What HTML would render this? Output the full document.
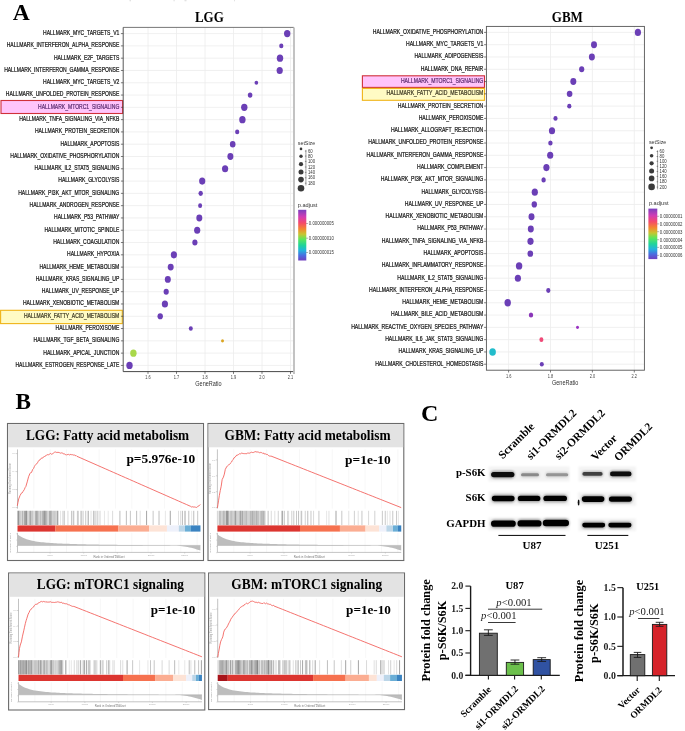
<!DOCTYPE html>
<html><head><meta charset="utf-8"><title>Figure</title><style>html,body{margin:0;padding:0;background:#fff;}body{width:685px;height:731px;overflow:hidden;}svg{display:block;}</style></head><body>
<svg width="685" height="731" viewBox="0 0 685 731" font-family="'Liberation Sans', Arial, sans-serif">
<rect width="685" height="731" fill="#fff"/>
<defs><filter id="bl" x="-20%" y="-60%" width="140%" height="220%"><feGaussianBlur stdDeviation="0.7"/></filter><filter id="bl2" x="-10%" y="-30%" width="120%" height="160%"><feGaussianBlur stdDeviation="0.9"/></filter><filter id="bl3" x="-20%" y="-80%" width="140%" height="260%"><feGaussianBlur stdDeviation="1.3"/></filter><linearGradient id="padjL" x1="0" y1="0" x2="0" y2="1"><stop offset="0" stop-color="#7a40c0"/><stop offset="0.14" stop-color="#d23cb4"/><stop offset="0.26" stop-color="#f54a6a"/><stop offset="0.38" stop-color="#f3882e"/><stop offset="0.48" stop-color="#c9c431"/><stop offset="0.58" stop-color="#5ee65a"/><stop offset="0.70" stop-color="#1fd49a"/><stop offset="0.80" stop-color="#22b4dc"/><stop offset="0.90" stop-color="#4a6de0"/><stop offset="1" stop-color="#6f40c0"/></linearGradient></defs>
<rect x="129.5" y="0" width="1.5" height="1.3" fill="#e2e2e2"/>
<rect x="173.5" y="0" width="1.2" height="1.3" fill="#e2e2e2"/>
<rect x="184.5" y="0" width="2" height="1.3" fill="#e2e2e2"/>
<rect x="234" y="0" width="1" height="1.3" fill="#e2e2e2"/>
<text x="12.7" y="19.6" font-family="'Liberation Serif', 'Times New Roman', serif" font-weight="bold" font-size="23.6">A</text>
<text x="194.9" y="21.8" font-family="'Liberation Serif', 'Times New Roman', serif" font-weight="bold" font-size="14.4" textLength="28.9" lengthAdjust="spacingAndGlyphs">LGG</text>
<text x="551.8" y="21.5" font-family="'Liberation Serif', 'Times New Roman', serif" font-weight="bold" font-size="14.4" textLength="31.1" lengthAdjust="spacingAndGlyphs">GBM</text>
<rect x="1" y="100.5" width="121.6" height="13" fill="#ffc4fb" stroke="#d0303a" stroke-width="1.1"/>
<rect x="0.6" y="310.3" width="121.7" height="13.3" fill="#fffbc4" stroke="#f0b418" stroke-width="1.1"/>
<line x1="123.2" y1="33.6" x2="293.9" y2="33.6" stroke="#ececec" stroke-width="0.8"/>
<line x1="123.2" y1="45.89" x2="293.9" y2="45.89" stroke="#ececec" stroke-width="0.8"/>
<line x1="123.2" y1="58.18" x2="293.9" y2="58.18" stroke="#ececec" stroke-width="0.8"/>
<line x1="123.2" y1="70.47" x2="293.9" y2="70.47" stroke="#ececec" stroke-width="0.8"/>
<line x1="123.2" y1="82.76" x2="293.9" y2="82.76" stroke="#ececec" stroke-width="0.8"/>
<line x1="123.2" y1="95.05" x2="293.9" y2="95.05" stroke="#ececec" stroke-width="0.8"/>
<line x1="123.2" y1="107.34" x2="293.9" y2="107.34" stroke="#ececec" stroke-width="0.8"/>
<line x1="123.2" y1="119.63" x2="293.9" y2="119.63" stroke="#ececec" stroke-width="0.8"/>
<line x1="123.2" y1="131.92" x2="293.9" y2="131.92" stroke="#ececec" stroke-width="0.8"/>
<line x1="123.2" y1="144.21" x2="293.9" y2="144.21" stroke="#ececec" stroke-width="0.8"/>
<line x1="123.2" y1="156.5" x2="293.9" y2="156.5" stroke="#ececec" stroke-width="0.8"/>
<line x1="123.2" y1="168.79" x2="293.9" y2="168.79" stroke="#ececec" stroke-width="0.8"/>
<line x1="123.2" y1="181.08" x2="293.9" y2="181.08" stroke="#ececec" stroke-width="0.8"/>
<line x1="123.2" y1="193.37" x2="293.9" y2="193.37" stroke="#ececec" stroke-width="0.8"/>
<line x1="123.2" y1="205.66" x2="293.9" y2="205.66" stroke="#ececec" stroke-width="0.8"/>
<line x1="123.2" y1="217.95" x2="293.9" y2="217.95" stroke="#ececec" stroke-width="0.8"/>
<line x1="123.2" y1="230.24" x2="293.9" y2="230.24" stroke="#ececec" stroke-width="0.8"/>
<line x1="123.2" y1="242.53" x2="293.9" y2="242.53" stroke="#ececec" stroke-width="0.8"/>
<line x1="123.2" y1="254.82" x2="293.9" y2="254.82" stroke="#ececec" stroke-width="0.8"/>
<line x1="123.2" y1="267.11" x2="293.9" y2="267.11" stroke="#ececec" stroke-width="0.8"/>
<line x1="123.2" y1="279.4" x2="293.9" y2="279.4" stroke="#ececec" stroke-width="0.8"/>
<line x1="123.2" y1="291.69" x2="293.9" y2="291.69" stroke="#ececec" stroke-width="0.8"/>
<line x1="123.2" y1="303.98" x2="293.9" y2="303.98" stroke="#ececec" stroke-width="0.8"/>
<line x1="123.2" y1="316.27" x2="293.9" y2="316.27" stroke="#ececec" stroke-width="0.8"/>
<line x1="123.2" y1="328.56" x2="293.9" y2="328.56" stroke="#ececec" stroke-width="0.8"/>
<line x1="123.2" y1="340.85" x2="293.9" y2="340.85" stroke="#ececec" stroke-width="0.8"/>
<line x1="123.2" y1="353.14" x2="293.9" y2="353.14" stroke="#ececec" stroke-width="0.8"/>
<line x1="123.2" y1="365.43" x2="293.9" y2="365.43" stroke="#ececec" stroke-width="0.8"/>
<line x1="148" y1="27.4" x2="148" y2="371.6" stroke="#ececec" stroke-width="0.8"/>
<line x1="176.5" y1="27.4" x2="176.5" y2="371.6" stroke="#ececec" stroke-width="0.8"/>
<line x1="205" y1="27.4" x2="205" y2="371.6" stroke="#ececec" stroke-width="0.8"/>
<line x1="233.5" y1="27.4" x2="233.5" y2="371.6" stroke="#ececec" stroke-width="0.8"/>
<line x1="262" y1="27.4" x2="262" y2="371.6" stroke="#ececec" stroke-width="0.8"/>
<line x1="290.5" y1="27.4" x2="290.5" y2="371.6" stroke="#ececec" stroke-width="0.8"/>
<text x="119.3" y="35" font-size="7" text-anchor="end" textLength="76.22" lengthAdjust="spacingAndGlyphs" fill="#111" stroke="#111" stroke-width="0.22">HALLMARK_MYC_TARGETS_V1</text>
<line x1="120.9" y1="33.6" x2="123.2" y2="33.6" stroke="#444" stroke-width="0.7"/>
<text x="119.3" y="47.29" font-size="7" text-anchor="end" textLength="112.65" lengthAdjust="spacingAndGlyphs" fill="#111" stroke="#111" stroke-width="0.22">HALLMARK_INTERFERON_ALPHA_RESPONSE</text>
<line x1="120.9" y1="45.89" x2="123.2" y2="45.89" stroke="#444" stroke-width="0.7"/>
<text x="119.3" y="59.58" font-size="7" text-anchor="end" textLength="65.32" lengthAdjust="spacingAndGlyphs" fill="#111" stroke="#111" stroke-width="0.22">HALLMARK_E2F_TARGETS</text>
<line x1="120.9" y1="58.18" x2="123.2" y2="58.18" stroke="#444" stroke-width="0.7"/>
<text x="119.3" y="71.87" font-size="7" text-anchor="end" textLength="115.16" lengthAdjust="spacingAndGlyphs" fill="#111" stroke="#111" stroke-width="0.22">HALLMARK_INTERFERON_GAMMA_RESPONSE</text>
<line x1="120.9" y1="70.47" x2="123.2" y2="70.47" stroke="#444" stroke-width="0.7"/>
<text x="119.3" y="84.16" font-size="7" text-anchor="end" textLength="76.22" lengthAdjust="spacingAndGlyphs" fill="#111" stroke="#111" stroke-width="0.22">HALLMARK_MYC_TARGETS_V2</text>
<line x1="120.9" y1="82.76" x2="123.2" y2="82.76" stroke="#444" stroke-width="0.7"/>
<text x="119.3" y="96.45" font-size="7" text-anchor="end" textLength="113.48" lengthAdjust="spacingAndGlyphs" fill="#111" stroke="#111" stroke-width="0.22">HALLMARK_UNFOLDED_PROTEIN_RESPONSE</text>
<line x1="120.9" y1="95.05" x2="123.2" y2="95.05" stroke="#444" stroke-width="0.7"/>
<text x="119.3" y="108.74" font-size="7" text-anchor="end" textLength="81.25" lengthAdjust="spacingAndGlyphs" fill="#5a2a6e" stroke="#5a2a6e" stroke-width="0.22">HALLMARK_MTORC1_SIGNALING</text>
<line x1="120.9" y1="107.34" x2="123.2" y2="107.34" stroke="#444" stroke-width="0.7"/>
<text x="119.3" y="121.03" font-size="7" text-anchor="end" textLength="100.07" lengthAdjust="spacingAndGlyphs" fill="#111" stroke="#111" stroke-width="0.22">HALLMARK_TNFA_SIGNALING_VIA_NFKB</text>
<line x1="120.9" y1="119.63" x2="123.2" y2="119.63" stroke="#444" stroke-width="0.7"/>
<text x="119.3" y="133.32" font-size="7" text-anchor="end" textLength="84.41" lengthAdjust="spacingAndGlyphs" fill="#111" stroke="#111" stroke-width="0.22">HALLMARK_PROTEIN_SECRETION</text>
<line x1="120.9" y1="131.92" x2="123.2" y2="131.92" stroke="#444" stroke-width="0.7"/>
<text x="119.3" y="145.61" font-size="7" text-anchor="end" textLength="58.89" lengthAdjust="spacingAndGlyphs" fill="#111" stroke="#111" stroke-width="0.22">HALLMARK_APOPTOSIS</text>
<line x1="120.9" y1="144.21" x2="123.2" y2="144.21" stroke="#444" stroke-width="0.7"/>
<text x="119.3" y="157.9" font-size="7" text-anchor="end" textLength="109.01" lengthAdjust="spacingAndGlyphs" fill="#111" stroke="#111" stroke-width="0.22">HALLMARK_OXIDATIVE_PHOSPHORYLATION</text>
<line x1="120.9" y1="156.5" x2="123.2" y2="156.5" stroke="#444" stroke-width="0.7"/>
<text x="119.3" y="170.19" font-size="7" text-anchor="end" textLength="84.8" lengthAdjust="spacingAndGlyphs" fill="#111" stroke="#111" stroke-width="0.22">HALLMARK_IL2_STAT5_SIGNALING</text>
<line x1="120.9" y1="168.79" x2="123.2" y2="168.79" stroke="#444" stroke-width="0.7"/>
<text x="119.3" y="182.48" font-size="7" text-anchor="end" textLength="61.04" lengthAdjust="spacingAndGlyphs" fill="#111" stroke="#111" stroke-width="0.22">HALLMARK_GLYCOLYSIS</text>
<line x1="120.9" y1="181.08" x2="123.2" y2="181.08" stroke="#444" stroke-width="0.7"/>
<text x="119.3" y="194.77" font-size="7" text-anchor="end" textLength="101.1" lengthAdjust="spacingAndGlyphs" fill="#111" stroke="#111" stroke-width="0.22">HALLMARK_PI3K_AKT_MTOR_SIGNALING</text>
<line x1="120.9" y1="193.37" x2="123.2" y2="193.37" stroke="#444" stroke-width="0.7"/>
<text x="119.3" y="207.06" font-size="7" text-anchor="end" textLength="89.73" lengthAdjust="spacingAndGlyphs" fill="#111" stroke="#111" stroke-width="0.22">HALLMARK_ANDROGEN_RESPONSE</text>
<line x1="120.9" y1="205.66" x2="123.2" y2="205.66" stroke="#444" stroke-width="0.7"/>
<text x="119.3" y="219.35" font-size="7" text-anchor="end" textLength="65.23" lengthAdjust="spacingAndGlyphs" fill="#111" stroke="#111" stroke-width="0.22">HALLMARK_P53_PATHWAY</text>
<line x1="120.9" y1="217.95" x2="123.2" y2="217.95" stroke="#444" stroke-width="0.7"/>
<text x="119.3" y="231.64" font-size="7" text-anchor="end" textLength="74.82" lengthAdjust="spacingAndGlyphs" fill="#111" stroke="#111" stroke-width="0.22">HALLMARK_MITOTIC_SPINDLE</text>
<line x1="120.9" y1="230.24" x2="123.2" y2="230.24" stroke="#444" stroke-width="0.7"/>
<text x="119.3" y="243.93" font-size="7" text-anchor="end" textLength="66.15" lengthAdjust="spacingAndGlyphs" fill="#111" stroke="#111" stroke-width="0.22">HALLMARK_COAGULATION</text>
<line x1="120.9" y1="242.53" x2="123.2" y2="242.53" stroke="#444" stroke-width="0.7"/>
<text x="119.3" y="256.22" font-size="7" text-anchor="end" textLength="52.28" lengthAdjust="spacingAndGlyphs" fill="#111" stroke="#111" stroke-width="0.22">HALLMARK_HYPOXIA</text>
<line x1="120.9" y1="254.82" x2="123.2" y2="254.82" stroke="#444" stroke-width="0.7"/>
<text x="119.3" y="268.51" font-size="7" text-anchor="end" textLength="79.85" lengthAdjust="spacingAndGlyphs" fill="#111" stroke="#111" stroke-width="0.22">HALLMARK_HEME_METABOLISM</text>
<line x1="120.9" y1="267.11" x2="123.2" y2="267.11" stroke="#444" stroke-width="0.7"/>
<text x="119.3" y="280.8" font-size="7" text-anchor="end" textLength="83.58" lengthAdjust="spacingAndGlyphs" fill="#111" stroke="#111" stroke-width="0.22">HALLMARK_KRAS_SIGNALING_UP</text>
<line x1="120.9" y1="279.4" x2="123.2" y2="279.4" stroke="#444" stroke-width="0.7"/>
<text x="119.3" y="293.09" font-size="7" text-anchor="end" textLength="77.44" lengthAdjust="spacingAndGlyphs" fill="#111" stroke="#111" stroke-width="0.22">HALLMARK_UV_RESPONSE_UP</text>
<line x1="120.9" y1="291.69" x2="123.2" y2="291.69" stroke="#444" stroke-width="0.7"/>
<text x="119.3" y="305.38" font-size="7" text-anchor="end" textLength="96.34" lengthAdjust="spacingAndGlyphs" fill="#111" stroke="#111" stroke-width="0.22">HALLMARK_XENOBIOTIC_METABOLISM</text>
<line x1="120.9" y1="303.98" x2="123.2" y2="303.98" stroke="#444" stroke-width="0.7"/>
<text x="119.3" y="317.67" font-size="7" text-anchor="end" textLength="95.41" lengthAdjust="spacingAndGlyphs" fill="#3a3520" stroke="#3a3520" stroke-width="0.22">HALLMARK_FATTY_ACID_METABOLISM</text>
<line x1="120.9" y1="316.27" x2="123.2" y2="316.27" stroke="#444" stroke-width="0.7"/>
<text x="119.3" y="329.96" font-size="7" text-anchor="end" textLength="63.73" lengthAdjust="spacingAndGlyphs" fill="#111" stroke="#111" stroke-width="0.22">HALLMARK_PEROXISOME</text>
<line x1="120.9" y1="328.56" x2="123.2" y2="328.56" stroke="#444" stroke-width="0.7"/>
<text x="119.3" y="342.25" font-size="7" text-anchor="end" textLength="85.72" lengthAdjust="spacingAndGlyphs" fill="#111" stroke="#111" stroke-width="0.22">HALLMARK_TGF_BETA_SIGNALING</text>
<line x1="120.9" y1="340.85" x2="123.2" y2="340.85" stroke="#444" stroke-width="0.7"/>
<text x="119.3" y="354.54" font-size="7" text-anchor="end" textLength="76.03" lengthAdjust="spacingAndGlyphs" fill="#111" stroke="#111" stroke-width="0.22">HALLMARK_APICAL_JUNCTION</text>
<line x1="120.9" y1="353.14" x2="123.2" y2="353.14" stroke="#444" stroke-width="0.7"/>
<text x="119.3" y="366.83" font-size="7" text-anchor="end" textLength="103.89" lengthAdjust="spacingAndGlyphs" fill="#111" stroke="#111" stroke-width="0.22">HALLMARK_ESTROGEN_RESPONSE_LATE</text>
<line x1="120.9" y1="365.43" x2="123.2" y2="365.43" stroke="#444" stroke-width="0.7"/>
<ellipse cx="287.2" cy="33.6" rx="3.2" ry="3.68" fill="#6b3fb6"/>
<ellipse cx="281.3" cy="45.89" rx="2.1" ry="2.42" fill="#6b3fb6"/>
<ellipse cx="280" cy="58.18" rx="3.2" ry="3.68" fill="#6b3fb6"/>
<ellipse cx="279.7" cy="70.47" rx="3.1" ry="3.56" fill="#6b3fb6"/>
<ellipse cx="256.4" cy="82.76" rx="1.8" ry="2.07" fill="#6b3fb6"/>
<ellipse cx="250.1" cy="95.05" rx="2.3" ry="2.64" fill="#6b3fb6"/>
<ellipse cx="244.3" cy="107.34" rx="3.2" ry="3.68" fill="#6b3fb6"/>
<ellipse cx="242.4" cy="119.63" rx="3.2" ry="3.68" fill="#6b3fb6"/>
<ellipse cx="237.2" cy="131.92" rx="2.1" ry="2.42" fill="#6b3fb6"/>
<ellipse cx="232.7" cy="144.21" rx="2.8" ry="3.22" fill="#6b3fb6"/>
<ellipse cx="230.4" cy="156.5" rx="3" ry="3.45" fill="#6b3fb6"/>
<ellipse cx="225.1" cy="168.79" rx="3.1" ry="3.56" fill="#6b3fb6"/>
<ellipse cx="202.2" cy="181.08" rx="3.1" ry="3.56" fill="#6b3fb6"/>
<ellipse cx="200.7" cy="193.37" rx="2.2" ry="2.53" fill="#6b3fb6"/>
<ellipse cx="200.1" cy="205.66" rx="2" ry="2.3" fill="#6b3fb6"/>
<ellipse cx="199.3" cy="217.95" rx="3" ry="3.45" fill="#6b3fb6"/>
<ellipse cx="197.2" cy="230.24" rx="3.1" ry="3.56" fill="#6b3fb6"/>
<ellipse cx="194.9" cy="242.53" rx="2.6" ry="2.99" fill="#6b3fb6"/>
<ellipse cx="173.9" cy="254.82" rx="3.1" ry="3.56" fill="#6b3fb6"/>
<ellipse cx="170.7" cy="267.11" rx="3" ry="3.45" fill="#6b3fb6"/>
<ellipse cx="167.8" cy="279.4" rx="3" ry="3.45" fill="#6b3fb6"/>
<ellipse cx="166.2" cy="291.69" rx="2.6" ry="2.99" fill="#6b3fb6"/>
<ellipse cx="164.9" cy="303.98" rx="3.1" ry="3.56" fill="#6b3fb6"/>
<ellipse cx="160.2" cy="316.27" rx="2.7" ry="3.1" fill="#6b3fb6"/>
<ellipse cx="190.8" cy="328.56" rx="2" ry="2.3" fill="#6b3fb6"/>
<ellipse cx="222.5" cy="340.85" rx="1.5" ry="1.72" fill="#dba522"/>
<ellipse cx="133.4" cy="353.14" rx="3.2" ry="3.68" fill="#a9d84b"/>
<ellipse cx="129.5" cy="365.43" rx="3.2" ry="3.68" fill="#6b3fb6"/>
<line x1="148" y1="371.6" x2="148" y2="373.9" stroke="#444" stroke-width="0.7"/>
<text x="148" y="379.2" font-size="4.6" text-anchor="middle" fill="#444" textLength="5.43" lengthAdjust="spacingAndGlyphs">1.6</text>
<line x1="176.5" y1="371.6" x2="176.5" y2="373.9" stroke="#444" stroke-width="0.7"/>
<text x="176.5" y="379.2" font-size="4.6" text-anchor="middle" fill="#444" textLength="5.43" lengthAdjust="spacingAndGlyphs">1.7</text>
<line x1="205" y1="371.6" x2="205" y2="373.9" stroke="#444" stroke-width="0.7"/>
<text x="205" y="379.2" font-size="4.6" text-anchor="middle" fill="#444" textLength="5.43" lengthAdjust="spacingAndGlyphs">1.8</text>
<line x1="233.5" y1="371.6" x2="233.5" y2="373.9" stroke="#444" stroke-width="0.7"/>
<text x="233.5" y="379.2" font-size="4.6" text-anchor="middle" fill="#444" textLength="5.43" lengthAdjust="spacingAndGlyphs">1.9</text>
<line x1="262" y1="371.6" x2="262" y2="373.9" stroke="#444" stroke-width="0.7"/>
<text x="262" y="379.2" font-size="4.6" text-anchor="middle" fill="#444" textLength="5.43" lengthAdjust="spacingAndGlyphs">2.0</text>
<line x1="290.5" y1="371.6" x2="290.5" y2="373.9" stroke="#444" stroke-width="0.7"/>
<text x="290.5" y="379.2" font-size="4.6" text-anchor="middle" fill="#444" textLength="5.43" lengthAdjust="spacingAndGlyphs">2.1</text>
<line x1="123.2" y1="27.4" x2="293.9" y2="27.4" stroke="#666" stroke-width="0.9"/>
<line x1="123.2" y1="27.4" x2="123.2" y2="371.6" stroke="#444" stroke-width="0.9"/>
<line x1="123.2" y1="371.6" x2="293.9" y2="371.6" stroke="#333" stroke-width="0.9"/>
<line x1="294" y1="27.4" x2="294" y2="374" stroke="#bdbdbd" stroke-width="1.8"/>
<text x="208.5" y="386.3" font-size="6.4" text-anchor="middle" fill="#333" textLength="26.31" lengthAdjust="spacingAndGlyphs">GeneRatio</text>
<rect x="362.4" y="75.8" width="122.1" height="11.6" fill="#ffc4fb" stroke="#d0303a" stroke-width="1.1"/>
<rect x="362.4" y="88.4" width="122.1" height="11.9" fill="#fffbc4" stroke="#f0b418" stroke-width="1.1"/>
<line x1="486.4" y1="32.4" x2="644.4" y2="32.4" stroke="#ececec" stroke-width="0.8"/>
<line x1="486.4" y1="44.69" x2="644.4" y2="44.69" stroke="#ececec" stroke-width="0.8"/>
<line x1="486.4" y1="56.98" x2="644.4" y2="56.98" stroke="#ececec" stroke-width="0.8"/>
<line x1="486.4" y1="69.27" x2="644.4" y2="69.27" stroke="#ececec" stroke-width="0.8"/>
<line x1="486.4" y1="81.56" x2="644.4" y2="81.56" stroke="#ececec" stroke-width="0.8"/>
<line x1="486.4" y1="93.85" x2="644.4" y2="93.85" stroke="#ececec" stroke-width="0.8"/>
<line x1="486.4" y1="106.14" x2="644.4" y2="106.14" stroke="#ececec" stroke-width="0.8"/>
<line x1="486.4" y1="118.43" x2="644.4" y2="118.43" stroke="#ececec" stroke-width="0.8"/>
<line x1="486.4" y1="130.72" x2="644.4" y2="130.72" stroke="#ececec" stroke-width="0.8"/>
<line x1="486.4" y1="143.01" x2="644.4" y2="143.01" stroke="#ececec" stroke-width="0.8"/>
<line x1="486.4" y1="155.3" x2="644.4" y2="155.3" stroke="#ececec" stroke-width="0.8"/>
<line x1="486.4" y1="167.59" x2="644.4" y2="167.59" stroke="#ececec" stroke-width="0.8"/>
<line x1="486.4" y1="179.88" x2="644.4" y2="179.88" stroke="#ececec" stroke-width="0.8"/>
<line x1="486.4" y1="192.17" x2="644.4" y2="192.17" stroke="#ececec" stroke-width="0.8"/>
<line x1="486.4" y1="204.46" x2="644.4" y2="204.46" stroke="#ececec" stroke-width="0.8"/>
<line x1="486.4" y1="216.75" x2="644.4" y2="216.75" stroke="#ececec" stroke-width="0.8"/>
<line x1="486.4" y1="229.04" x2="644.4" y2="229.04" stroke="#ececec" stroke-width="0.8"/>
<line x1="486.4" y1="241.33" x2="644.4" y2="241.33" stroke="#ececec" stroke-width="0.8"/>
<line x1="486.4" y1="253.62" x2="644.4" y2="253.62" stroke="#ececec" stroke-width="0.8"/>
<line x1="486.4" y1="265.91" x2="644.4" y2="265.91" stroke="#ececec" stroke-width="0.8"/>
<line x1="486.4" y1="278.2" x2="644.4" y2="278.2" stroke="#ececec" stroke-width="0.8"/>
<line x1="486.4" y1="290.49" x2="644.4" y2="290.49" stroke="#ececec" stroke-width="0.8"/>
<line x1="486.4" y1="302.78" x2="644.4" y2="302.78" stroke="#ececec" stroke-width="0.8"/>
<line x1="486.4" y1="315.07" x2="644.4" y2="315.07" stroke="#ececec" stroke-width="0.8"/>
<line x1="486.4" y1="327.36" x2="644.4" y2="327.36" stroke="#ececec" stroke-width="0.8"/>
<line x1="486.4" y1="339.65" x2="644.4" y2="339.65" stroke="#ececec" stroke-width="0.8"/>
<line x1="486.4" y1="351.94" x2="644.4" y2="351.94" stroke="#ececec" stroke-width="0.8"/>
<line x1="486.4" y1="364.23" x2="644.4" y2="364.23" stroke="#ececec" stroke-width="0.8"/>
<line x1="508.6" y1="26.4" x2="508.6" y2="370.2" stroke="#ececec" stroke-width="0.8"/>
<line x1="550.5" y1="26.4" x2="550.5" y2="370.2" stroke="#ececec" stroke-width="0.8"/>
<line x1="592.4" y1="26.4" x2="592.4" y2="370.2" stroke="#ececec" stroke-width="0.8"/>
<line x1="634.3" y1="26.4" x2="634.3" y2="370.2" stroke="#ececec" stroke-width="0.8"/>
<text x="483.3" y="33.8" font-size="7" text-anchor="end" textLength="110.53" lengthAdjust="spacingAndGlyphs" fill="#111" stroke="#111" stroke-width="0.22">HALLMARK_OXIDATIVE_PHOSPHORYLATION</text>
<line x1="484.1" y1="32.4" x2="486.4" y2="32.4" stroke="#444" stroke-width="0.7"/>
<text x="483.3" y="46.09" font-size="7" text-anchor="end" textLength="77.28" lengthAdjust="spacingAndGlyphs" fill="#111" stroke="#111" stroke-width="0.22">HALLMARK_MYC_TARGETS_V1</text>
<line x1="484.1" y1="44.69" x2="486.4" y2="44.69" stroke="#444" stroke-width="0.7"/>
<text x="483.3" y="58.38" font-size="7" text-anchor="end" textLength="68.87" lengthAdjust="spacingAndGlyphs" fill="#111" stroke="#111" stroke-width="0.22">HALLMARK_ADIPOGENESIS</text>
<line x1="484.1" y1="56.98" x2="486.4" y2="56.98" stroke="#444" stroke-width="0.7"/>
<text x="483.3" y="70.67" font-size="7" text-anchor="end" textLength="62.54" lengthAdjust="spacingAndGlyphs" fill="#111" stroke="#111" stroke-width="0.22">HALLMARK_DNA_REPAIR</text>
<line x1="484.1" y1="69.27" x2="486.4" y2="69.27" stroke="#444" stroke-width="0.7"/>
<text x="483.3" y="82.96" font-size="7" text-anchor="end" textLength="82.38" lengthAdjust="spacingAndGlyphs" fill="#5a2a6e" stroke="#5a2a6e" stroke-width="0.22">HALLMARK_MTORC1_SIGNALING</text>
<line x1="484.1" y1="81.56" x2="486.4" y2="81.56" stroke="#444" stroke-width="0.7"/>
<text x="483.3" y="95.25" font-size="7" text-anchor="end" textLength="96.73" lengthAdjust="spacingAndGlyphs" fill="#3a3520" stroke="#3a3520" stroke-width="0.22">HALLMARK_FATTY_ACID_METABOLISM</text>
<line x1="484.1" y1="93.85" x2="486.4" y2="93.85" stroke="#444" stroke-width="0.7"/>
<text x="483.3" y="107.54" font-size="7" text-anchor="end" textLength="85.59" lengthAdjust="spacingAndGlyphs" fill="#111" stroke="#111" stroke-width="0.22">HALLMARK_PROTEIN_SECRETION</text>
<line x1="484.1" y1="106.14" x2="486.4" y2="106.14" stroke="#444" stroke-width="0.7"/>
<text x="483.3" y="119.83" font-size="7" text-anchor="end" textLength="64.62" lengthAdjust="spacingAndGlyphs" fill="#111" stroke="#111" stroke-width="0.22">HALLMARK_PEROXISOME</text>
<line x1="484.1" y1="118.43" x2="486.4" y2="118.43" stroke="#444" stroke-width="0.7"/>
<text x="483.3" y="132.12" font-size="7" text-anchor="end" textLength="92.39" lengthAdjust="spacingAndGlyphs" fill="#111" stroke="#111" stroke-width="0.22">HALLMARK_ALLOGRAFT_REJECTION</text>
<line x1="484.1" y1="130.72" x2="486.4" y2="130.72" stroke="#444" stroke-width="0.7"/>
<text x="483.3" y="144.41" font-size="7" text-anchor="end" textLength="115.06" lengthAdjust="spacingAndGlyphs" fill="#111" stroke="#111" stroke-width="0.22">HALLMARK_UNFOLDED_PROTEIN_RESPONSE</text>
<line x1="484.1" y1="143.01" x2="486.4" y2="143.01" stroke="#444" stroke-width="0.7"/>
<text x="483.3" y="156.7" font-size="7" text-anchor="end" textLength="116.76" lengthAdjust="spacingAndGlyphs" fill="#111" stroke="#111" stroke-width="0.22">HALLMARK_INTERFERON_GAMMA_RESPONSE</text>
<line x1="484.1" y1="155.3" x2="486.4" y2="155.3" stroke="#444" stroke-width="0.7"/>
<text x="483.3" y="168.99" font-size="7" text-anchor="end" textLength="66.31" lengthAdjust="spacingAndGlyphs" fill="#111" stroke="#111" stroke-width="0.22">HALLMARK_COMPLEMENT</text>
<line x1="484.1" y1="167.59" x2="486.4" y2="167.59" stroke="#444" stroke-width="0.7"/>
<text x="483.3" y="181.28" font-size="7" text-anchor="end" textLength="102.51" lengthAdjust="spacingAndGlyphs" fill="#111" stroke="#111" stroke-width="0.22">HALLMARK_PI3K_AKT_MTOR_SIGNALING</text>
<line x1="484.1" y1="179.88" x2="486.4" y2="179.88" stroke="#444" stroke-width="0.7"/>
<text x="483.3" y="193.57" font-size="7" text-anchor="end" textLength="61.88" lengthAdjust="spacingAndGlyphs" fill="#111" stroke="#111" stroke-width="0.22">HALLMARK_GLYCOLYSIS</text>
<line x1="484.1" y1="192.17" x2="486.4" y2="192.17" stroke="#444" stroke-width="0.7"/>
<text x="483.3" y="205.86" font-size="7" text-anchor="end" textLength="78.51" lengthAdjust="spacingAndGlyphs" fill="#111" stroke="#111" stroke-width="0.22">HALLMARK_UV_RESPONSE_UP</text>
<line x1="484.1" y1="204.46" x2="486.4" y2="204.46" stroke="#444" stroke-width="0.7"/>
<text x="483.3" y="218.15" font-size="7" text-anchor="end" textLength="97.68" lengthAdjust="spacingAndGlyphs" fill="#111" stroke="#111" stroke-width="0.22">HALLMARK_XENOBIOTIC_METABOLISM</text>
<line x1="484.1" y1="216.75" x2="486.4" y2="216.75" stroke="#444" stroke-width="0.7"/>
<text x="483.3" y="230.44" font-size="7" text-anchor="end" textLength="66.13" lengthAdjust="spacingAndGlyphs" fill="#111" stroke="#111" stroke-width="0.22">HALLMARK_P53_PATHWAY</text>
<line x1="484.1" y1="229.04" x2="486.4" y2="229.04" stroke="#444" stroke-width="0.7"/>
<text x="483.3" y="242.73" font-size="7" text-anchor="end" textLength="101.47" lengthAdjust="spacingAndGlyphs" fill="#111" stroke="#111" stroke-width="0.22">HALLMARK_TNFA_SIGNALING_VIA_NFKB</text>
<line x1="484.1" y1="241.33" x2="486.4" y2="241.33" stroke="#444" stroke-width="0.7"/>
<text x="483.3" y="255.02" font-size="7" text-anchor="end" textLength="59.71" lengthAdjust="spacingAndGlyphs" fill="#111" stroke="#111" stroke-width="0.22">HALLMARK_APOPTOSIS</text>
<line x1="484.1" y1="253.62" x2="486.4" y2="253.62" stroke="#444" stroke-width="0.7"/>
<text x="483.3" y="267.31" font-size="7" text-anchor="end" textLength="101.46" lengthAdjust="spacingAndGlyphs" fill="#111" stroke="#111" stroke-width="0.22">HALLMARK_INFLAMMATORY_RESPONSE</text>
<line x1="484.1" y1="265.91" x2="486.4" y2="265.91" stroke="#444" stroke-width="0.7"/>
<text x="483.3" y="279.6" font-size="7" text-anchor="end" textLength="85.98" lengthAdjust="spacingAndGlyphs" fill="#111" stroke="#111" stroke-width="0.22">HALLMARK_IL2_STAT5_SIGNALING</text>
<line x1="484.1" y1="278.2" x2="486.4" y2="278.2" stroke="#444" stroke-width="0.7"/>
<text x="483.3" y="291.89" font-size="7" text-anchor="end" textLength="114.22" lengthAdjust="spacingAndGlyphs" fill="#111" stroke="#111" stroke-width="0.22">HALLMARK_INTERFERON_ALPHA_RESPONSE</text>
<line x1="484.1" y1="290.49" x2="486.4" y2="290.49" stroke="#444" stroke-width="0.7"/>
<text x="483.3" y="304.18" font-size="7" text-anchor="end" textLength="80.96" lengthAdjust="spacingAndGlyphs" fill="#111" stroke="#111" stroke-width="0.22">HALLMARK_HEME_METABOLISM</text>
<line x1="484.1" y1="302.78" x2="486.4" y2="302.78" stroke="#444" stroke-width="0.7"/>
<text x="483.3" y="316.47" font-size="7" text-anchor="end" textLength="92.3" lengthAdjust="spacingAndGlyphs" fill="#111" stroke="#111" stroke-width="0.22">HALLMARK_BILE_ACID_METABOLISM</text>
<line x1="484.1" y1="315.07" x2="486.4" y2="315.07" stroke="#444" stroke-width="0.7"/>
<text x="483.3" y="328.76" font-size="7" text-anchor="end" textLength="132.17" lengthAdjust="spacingAndGlyphs" fill="#111" stroke="#111" stroke-width="0.22">HALLMARK_REACTIVE_OXYGEN_SPECIES_PATHWAY</text>
<line x1="484.1" y1="327.36" x2="486.4" y2="327.36" stroke="#444" stroke-width="0.7"/>
<text x="483.3" y="341.05" font-size="7" text-anchor="end" textLength="98.17" lengthAdjust="spacingAndGlyphs" fill="#111" stroke="#111" stroke-width="0.22">HALLMARK_IL6_JAK_STAT3_SIGNALING</text>
<line x1="484.1" y1="339.65" x2="486.4" y2="339.65" stroke="#444" stroke-width="0.7"/>
<text x="483.3" y="353.34" font-size="7" text-anchor="end" textLength="84.75" lengthAdjust="spacingAndGlyphs" fill="#111" stroke="#111" stroke-width="0.22">HALLMARK_KRAS_SIGNALING_UP</text>
<line x1="484.1" y1="351.94" x2="486.4" y2="351.94" stroke="#444" stroke-width="0.7"/>
<text x="483.3" y="365.63" font-size="7" text-anchor="end" textLength="108.17" lengthAdjust="spacingAndGlyphs" fill="#111" stroke="#111" stroke-width="0.22">HALLMARK_CHOLESTEROL_HOMEOSTASIS</text>
<line x1="484.1" y1="364.23" x2="486.4" y2="364.23" stroke="#444" stroke-width="0.7"/>
<ellipse cx="637.9" cy="32.4" rx="3.1" ry="3.56" fill="#6b3fb6"/>
<ellipse cx="594" cy="44.69" rx="3" ry="3.45" fill="#6b3fb6"/>
<ellipse cx="591.9" cy="56.98" rx="3" ry="3.45" fill="#6b3fb6"/>
<ellipse cx="581.7" cy="69.27" rx="2.6" ry="2.99" fill="#6b3fb6"/>
<ellipse cx="573.3" cy="81.56" rx="3" ry="3.45" fill="#6b3fb6"/>
<ellipse cx="569.6" cy="93.85" rx="2.8" ry="3.22" fill="#6b3fb6"/>
<ellipse cx="569.3" cy="106.14" rx="2.1" ry="2.42" fill="#6b3fb6"/>
<ellipse cx="555.5" cy="118.43" rx="2.1" ry="2.42" fill="#6b3fb6"/>
<ellipse cx="552" cy="130.72" rx="3.1" ry="3.56" fill="#6b3fb6"/>
<ellipse cx="550.4" cy="143.01" rx="2.2" ry="2.53" fill="#6b3fb6"/>
<ellipse cx="550.2" cy="155.3" rx="3.1" ry="3.56" fill="#6b3fb6"/>
<ellipse cx="546.4" cy="167.59" rx="3.1" ry="3.56" fill="#6b3fb6"/>
<ellipse cx="543.6" cy="179.88" rx="2.2" ry="2.53" fill="#6b3fb6"/>
<ellipse cx="534.8" cy="192.17" rx="3.1" ry="3.56" fill="#6b3fb6"/>
<ellipse cx="534.3" cy="204.46" rx="2.7" ry="3.1" fill="#6b3fb6"/>
<ellipse cx="531.5" cy="216.75" rx="3" ry="3.45" fill="#6b3fb6"/>
<ellipse cx="530.8" cy="229.04" rx="3" ry="3.45" fill="#6b3fb6"/>
<ellipse cx="530.5" cy="241.33" rx="3.1" ry="3.56" fill="#6b3fb6"/>
<ellipse cx="530.3" cy="253.62" rx="2.8" ry="3.22" fill="#6b3fb6"/>
<ellipse cx="519.1" cy="265.91" rx="3.2" ry="3.68" fill="#6b3fb6"/>
<ellipse cx="517.9" cy="278.2" rx="3.1" ry="3.56" fill="#6b3fb6"/>
<ellipse cx="548.3" cy="290.49" rx="2.1" ry="2.42" fill="#6b3fb6"/>
<ellipse cx="507.7" cy="302.78" rx="3.2" ry="3.68" fill="#6b3fb6"/>
<ellipse cx="531" cy="315.07" rx="2.2" ry="2.53" fill="#8a36b8"/>
<ellipse cx="577.5" cy="327.36" rx="1.5" ry="1.72" fill="#9a32c2"/>
<ellipse cx="541.4" cy="339.65" rx="2" ry="2.3" fill="#ef4a78"/>
<ellipse cx="492.6" cy="351.94" rx="3.3" ry="3.79" fill="#22bccb"/>
<ellipse cx="541.8" cy="364.23" rx="2" ry="2.3" fill="#6b3fb6"/>
<line x1="508.6" y1="370.2" x2="508.6" y2="372.5" stroke="#444" stroke-width="0.7"/>
<text x="508.6" y="377.8" font-size="4.6" text-anchor="middle" fill="#444" textLength="5.43" lengthAdjust="spacingAndGlyphs">1.6</text>
<line x1="550.5" y1="370.2" x2="550.5" y2="372.5" stroke="#444" stroke-width="0.7"/>
<text x="550.5" y="377.8" font-size="4.6" text-anchor="middle" fill="#444" textLength="5.43" lengthAdjust="spacingAndGlyphs">1.8</text>
<line x1="592.4" y1="370.2" x2="592.4" y2="372.5" stroke="#444" stroke-width="0.7"/>
<text x="592.4" y="377.8" font-size="4.6" text-anchor="middle" fill="#444" textLength="5.43" lengthAdjust="spacingAndGlyphs">2.0</text>
<line x1="634.3" y1="370.2" x2="634.3" y2="372.5" stroke="#444" stroke-width="0.7"/>
<text x="634.3" y="377.8" font-size="4.6" text-anchor="middle" fill="#444" textLength="5.43" lengthAdjust="spacingAndGlyphs">2.2</text>
<rect x="486.4" y="26.4" width="158" height="343.8" fill="none" stroke="#555" stroke-width="0.9"/>
<text x="565.2" y="385.2" font-size="6.4" text-anchor="middle" fill="#333" textLength="26.31" lengthAdjust="spacingAndGlyphs">GeneRatio</text>
<text x="297.8" y="144.8" font-size="6.2" fill="#333" textLength="17.38" lengthAdjust="spacingAndGlyphs">setSize</text>
<circle cx="301" cy="148.9" r="1.3" fill="#3a3a3a"/>
<circle cx="301" cy="156.3" r="1.7" fill="#3a3a3a"/>
<circle cx="301" cy="164.2" r="2.1" fill="#3a3a3a"/>
<circle cx="301" cy="171.9" r="2.5" fill="#3a3a3a"/>
<circle cx="301" cy="179.6" r="2.8" fill="#3a3a3a"/>
<circle cx="301" cy="188.3" r="3.3" fill="#3a3a3a"/>
<line x1="305.9" y1="149.9" x2="305.9" y2="185.5" stroke="#444" stroke-width="0.5"/>
<line x1="304.9" y1="151.1" x2="306.4" y2="151.1" stroke="#444" stroke-width="0.5"/>
<text x="307.9" y="152.7" font-size="5" fill="#333" textLength="4.78" lengthAdjust="spacingAndGlyphs">60</text>
<line x1="304.9" y1="156.1" x2="306.4" y2="156.1" stroke="#444" stroke-width="0.5"/>
<text x="307.9" y="157.7" font-size="5" fill="#333" textLength="4.78" lengthAdjust="spacingAndGlyphs">80</text>
<line x1="304.9" y1="161.4" x2="306.4" y2="161.4" stroke="#444" stroke-width="0.5"/>
<text x="307.9" y="163" font-size="5" fill="#333" textLength="7.17" lengthAdjust="spacingAndGlyphs">100</text>
<line x1="304.9" y1="167" x2="306.4" y2="167" stroke="#444" stroke-width="0.5"/>
<text x="307.9" y="168.6" font-size="5" fill="#333" textLength="7.17" lengthAdjust="spacingAndGlyphs">120</text>
<line x1="304.9" y1="172.4" x2="306.4" y2="172.4" stroke="#444" stroke-width="0.5"/>
<text x="307.9" y="174" font-size="5" fill="#333" textLength="7.17" lengthAdjust="spacingAndGlyphs">140</text>
<line x1="304.9" y1="177.8" x2="306.4" y2="177.8" stroke="#444" stroke-width="0.5"/>
<text x="307.9" y="179.4" font-size="5" fill="#333" textLength="7.17" lengthAdjust="spacingAndGlyphs">160</text>
<line x1="304.9" y1="183.2" x2="306.4" y2="183.2" stroke="#444" stroke-width="0.5"/>
<text x="307.9" y="184.8" font-size="5" fill="#333" textLength="7.17" lengthAdjust="spacingAndGlyphs">180</text>
<text x="297.8" y="206.7" font-size="6.2" fill="#333" textLength="19.61" lengthAdjust="spacingAndGlyphs">p.adjust</text>
<rect x="298.2" y="209.8" width="8.1" height="50.7" fill="url(#padjL)"/>
<line x1="306.3" y1="223.5" x2="307.8" y2="223.5" stroke="#444" stroke-width="0.5"/>
<text x="308.8" y="225.3" font-size="5" fill="#333" textLength="25.11" lengthAdjust="spacingAndGlyphs">0.000000005</text>
<line x1="306.3" y1="238.2" x2="307.8" y2="238.2" stroke="#444" stroke-width="0.5"/>
<text x="308.8" y="240" font-size="5" fill="#333" textLength="25.11" lengthAdjust="spacingAndGlyphs">0.000000010</text>
<line x1="306.3" y1="252.5" x2="307.8" y2="252.5" stroke="#444" stroke-width="0.5"/>
<text x="308.8" y="254.3" font-size="5" fill="#333" textLength="25.11" lengthAdjust="spacingAndGlyphs">0.000000015</text>
<text x="648.9" y="143.6" font-size="6.2" fill="#333" textLength="17.38" lengthAdjust="spacingAndGlyphs">setSize</text>
<circle cx="651.6" cy="147.8" r="1.4" fill="#3a3a3a"/>
<circle cx="651.6" cy="155.8" r="1.8" fill="#3a3a3a"/>
<circle cx="651.6" cy="163.3" r="2.1" fill="#3a3a3a"/>
<circle cx="651.6" cy="170.9" r="2.5" fill="#3a3a3a"/>
<circle cx="651.6" cy="178.4" r="2.8" fill="#3a3a3a"/>
<circle cx="651.6" cy="186.9" r="3.3" fill="#3a3a3a"/>
<line x1="657.6" y1="150.3" x2="657.6" y2="189.4" stroke="#444" stroke-width="0.5"/>
<line x1="656.6" y1="151.5" x2="658.1" y2="151.5" stroke="#444" stroke-width="0.5"/>
<text x="659.6" y="153.1" font-size="5" fill="#333" textLength="4.78" lengthAdjust="spacingAndGlyphs">60</text>
<line x1="656.6" y1="156.5" x2="658.1" y2="156.5" stroke="#444" stroke-width="0.5"/>
<text x="659.6" y="158.1" font-size="5" fill="#333" textLength="4.78" lengthAdjust="spacingAndGlyphs">80</text>
<line x1="656.6" y1="161.3" x2="658.1" y2="161.3" stroke="#444" stroke-width="0.5"/>
<text x="659.6" y="162.9" font-size="5" fill="#333" textLength="7.17" lengthAdjust="spacingAndGlyphs">100</text>
<line x1="656.6" y1="166.3" x2="658.1" y2="166.3" stroke="#444" stroke-width="0.5"/>
<text x="659.6" y="167.9" font-size="5" fill="#333" textLength="7.17" lengthAdjust="spacingAndGlyphs">120</text>
<line x1="656.6" y1="171.5" x2="658.1" y2="171.5" stroke="#444" stroke-width="0.5"/>
<text x="659.6" y="173.1" font-size="5" fill="#333" textLength="7.17" lengthAdjust="spacingAndGlyphs">140</text>
<line x1="656.6" y1="176.4" x2="658.1" y2="176.4" stroke="#444" stroke-width="0.5"/>
<text x="659.6" y="178" font-size="5" fill="#333" textLength="7.17" lengthAdjust="spacingAndGlyphs">160</text>
<line x1="656.6" y1="181.8" x2="658.1" y2="181.8" stroke="#444" stroke-width="0.5"/>
<text x="659.6" y="183.4" font-size="5" fill="#333" textLength="7.17" lengthAdjust="spacingAndGlyphs">180</text>
<line x1="656.6" y1="187.1" x2="658.1" y2="187.1" stroke="#444" stroke-width="0.5"/>
<text x="659.6" y="188.7" font-size="5" fill="#333" textLength="7.17" lengthAdjust="spacingAndGlyphs">200</text>
<text x="648.9" y="205.4" font-size="6.2" fill="#333" textLength="19.61" lengthAdjust="spacingAndGlyphs">p.adjust</text>
<rect x="648.4" y="208.6" width="8.9" height="50.5" fill="url(#padjL)"/>
<line x1="657.3" y1="216.3" x2="658.8" y2="216.3" stroke="#444" stroke-width="0.5"/>
<text x="659.8" y="218.1" font-size="5" fill="#333" textLength="22.72" lengthAdjust="spacingAndGlyphs">0.00000001</text>
<line x1="657.3" y1="223.9" x2="658.8" y2="223.9" stroke="#444" stroke-width="0.5"/>
<text x="659.8" y="225.7" font-size="5" fill="#333" textLength="22.72" lengthAdjust="spacingAndGlyphs">0.00000002</text>
<line x1="657.3" y1="231.7" x2="658.8" y2="231.7" stroke="#444" stroke-width="0.5"/>
<text x="659.8" y="233.5" font-size="5" fill="#333" textLength="22.72" lengthAdjust="spacingAndGlyphs">0.00000003</text>
<line x1="657.3" y1="239.7" x2="658.8" y2="239.7" stroke="#444" stroke-width="0.5"/>
<text x="659.8" y="241.5" font-size="5" fill="#333" textLength="22.72" lengthAdjust="spacingAndGlyphs">0.00000004</text>
<line x1="657.3" y1="247.4" x2="658.8" y2="247.4" stroke="#444" stroke-width="0.5"/>
<text x="659.8" y="249.2" font-size="5" fill="#333" textLength="22.72" lengthAdjust="spacingAndGlyphs">0.00000005</text>
<line x1="657.3" y1="255.4" x2="658.8" y2="255.4" stroke="#444" stroke-width="0.5"/>
<text x="659.8" y="257.2" font-size="5" fill="#333" textLength="22.72" lengthAdjust="spacingAndGlyphs">0.00000006</text>
<text x="15.6" y="408.7" font-family="'Liberation Serif', 'Times New Roman', serif" font-weight="bold" font-size="23.2">B</text>
<rect x="7.5" y="423.5" width="196" height="137" fill="#fff" stroke="#6a6a6a" stroke-width="1.1"/>
<rect x="8.1" y="424.1" width="194.8" height="23.2" fill="#e3e3e3"/>
<text x="26" y="439.7" font-family="'Liberation Serif', 'Times New Roman', serif" font-weight="bold" font-size="14" textLength="163.1" lengthAdjust="spacingAndGlyphs">LGG: Fatty acid metabolism</text>
<line x1="33.83" y1="449.4" x2="33.83" y2="508.6" stroke="#f1f1f1" stroke-width="0.6"/>
<line x1="33.83" y1="532.8" x2="33.83" y2="552.4" stroke="#f1f1f1" stroke-width="0.6"/>
<line x1="50.16" y1="449.4" x2="50.16" y2="508.6" stroke="#f1f1f1" stroke-width="0.6"/>
<line x1="50.16" y1="532.8" x2="50.16" y2="552.4" stroke="#f1f1f1" stroke-width="0.6"/>
<line x1="66.49" y1="449.4" x2="66.49" y2="508.6" stroke="#f1f1f1" stroke-width="0.6"/>
<line x1="66.49" y1="532.8" x2="66.49" y2="552.4" stroke="#f1f1f1" stroke-width="0.6"/>
<line x1="82.82" y1="449.4" x2="82.82" y2="508.6" stroke="#f1f1f1" stroke-width="0.6"/>
<line x1="82.82" y1="532.8" x2="82.82" y2="552.4" stroke="#f1f1f1" stroke-width="0.6"/>
<line x1="99.15" y1="449.4" x2="99.15" y2="508.6" stroke="#f1f1f1" stroke-width="0.6"/>
<line x1="99.15" y1="532.8" x2="99.15" y2="552.4" stroke="#f1f1f1" stroke-width="0.6"/>
<line x1="115.48" y1="449.4" x2="115.48" y2="508.6" stroke="#f1f1f1" stroke-width="0.6"/>
<line x1="115.48" y1="532.8" x2="115.48" y2="552.4" stroke="#f1f1f1" stroke-width="0.6"/>
<line x1="131.81" y1="449.4" x2="131.81" y2="508.6" stroke="#f1f1f1" stroke-width="0.6"/>
<line x1="131.81" y1="532.8" x2="131.81" y2="552.4" stroke="#f1f1f1" stroke-width="0.6"/>
<line x1="148.14" y1="449.4" x2="148.14" y2="508.6" stroke="#f1f1f1" stroke-width="0.6"/>
<line x1="148.14" y1="532.8" x2="148.14" y2="552.4" stroke="#f1f1f1" stroke-width="0.6"/>
<line x1="164.47" y1="449.4" x2="164.47" y2="508.6" stroke="#f1f1f1" stroke-width="0.6"/>
<line x1="164.47" y1="532.8" x2="164.47" y2="552.4" stroke="#f1f1f1" stroke-width="0.6"/>
<line x1="180.8" y1="449.4" x2="180.8" y2="508.6" stroke="#f1f1f1" stroke-width="0.6"/>
<line x1="180.8" y1="532.8" x2="180.8" y2="552.4" stroke="#f1f1f1" stroke-width="0.6"/>
<line x1="197.13" y1="449.4" x2="197.13" y2="508.6" stroke="#f1f1f1" stroke-width="0.6"/>
<line x1="197.13" y1="532.8" x2="197.13" y2="552.4" stroke="#f1f1f1" stroke-width="0.6"/>
<line x1="17.5" y1="449.4" x2="17.5" y2="508.6" stroke="#9a9a9a" stroke-width="0.6"/>
<line x1="16" y1="453.6" x2="17.5" y2="453.6" stroke="#aaa" stroke-width="0.5"/>
<text x="15.5" y="454.4" font-size="2.4" fill="#aaa" text-anchor="end">0.6</text>
<line x1="16" y1="471.6" x2="17.5" y2="471.6" stroke="#aaa" stroke-width="0.5"/>
<text x="15.5" y="472.4" font-size="2.4" fill="#aaa" text-anchor="end">0.4</text>
<line x1="16" y1="489.6" x2="17.5" y2="489.6" stroke="#aaa" stroke-width="0.5"/>
<text x="15.5" y="490.4" font-size="2.4" fill="#aaa" text-anchor="end">0.2</text>
<line x1="16" y1="507.6" x2="17.5" y2="507.6" stroke="#aaa" stroke-width="0.5"/>
<text x="15.5" y="508.4" font-size="2.4" fill="#aaa" text-anchor="end">0.0</text>
<text transform="translate(11.3,478.5) rotate(-90)" font-size="2.6" fill="#999" text-anchor="middle">Running Enrichment Score</text>
<text x="126.4" y="463.4" font-family="'Liberation Serif', 'Times New Roman', serif" font-weight="bold" font-size="13.4" textLength="68.9" lengthAdjust="spacingAndGlyphs">p=5.976e-10</text>
<polyline points="17.31,505.81 17.99,502.39 18.68,498.97 20.04,495.56 21.24,493.33 22.09,492.98 22.95,491.62 24.32,489.57 25.09,487.64 25.85,486.5 27.22,481.88 28.59,476.75 29.79,473.85 30.64,472.64 31.5,472.48 32.69,469.4 33.55,468.5 34.4,466.5 35.14,465.29 35.88,464.37 36.62,463.93 37.48,462.84 38.33,461.25 39.19,460.17 40.04,459.92 40.9,458.51 41.75,458.12 42.61,458.11 43.46,456.9 44.32,456.58 45.17,456.07 46.03,455.8 46.88,454.7 47.61,454.73 48.33,454.83 49.06,454.42 49.79,454.02 50.56,453.43 51.32,454.27 52.09,453.86 52.86,453.68 53.72,452.9 54.57,452.19 55.43,451.97 56.28,452.44 57.14,452.23 57.99,452.7 58.85,452.31 59.7,452.78 60.56,453.16 61.41,452.89 62.26,452.99 63.12,453.64 63.97,453.97 64.83,454.01 65.68,454.7 66.41,455.12 67.14,454.32 67.86,454.75 68.59,454.36 69.38,454.93 70.16,454.66 70.95,454.17 71.74,454.99 72.52,454.7 73.23,455.14 73.95,454.87 74.66,454.97 75.37,455.76 76.08,455.47 76.79,456.24 80.86,458.03 84.92,459.82 88.98,461.6 93.04,463.39 97.1,465.18 101.16,466.97 105.22,468.75 109.28,470.54 113.34,472.33 117.4,474.12 121.46,475.91 125.53,477.69 129.59,479.48 133.65,481.27 137.71,483.06 141.77,484.85 145.83,486.63 149.89,488.42 153.95,490.21 158.01,492 162.07,493.78 166.13,495.57 170.2,497.36 174.26,499.15 178.32,500.94 182.38,502.72 186.44,504.51 190.5,506.3 191.35,506.97 192.2,506.71 193.05,506.92 193.9,507.1 194.75,506.98 195.6,507.23 196.45,507.48 197.3,507 198.08,506.19 198.85,505.66 199.62,505.29 200.4,504.6" fill="none" stroke="#f25a55" stroke-width="0.85" stroke-linejoin="round"/>
<line x1="17.5" y1="510.8" x2="17.5" y2="525" stroke="#cfcfcf" stroke-width="0.55"/>
<line x1="18.01" y1="510.8" x2="18.01" y2="525" stroke="#777" stroke-width="0.55"/>
<line x1="18.43" y1="510.8" x2="18.43" y2="525" stroke="#777" stroke-width="0.55"/>
<line x1="19.16" y1="510.8" x2="19.16" y2="525" stroke="#444" stroke-width="0.55"/>
<line x1="19.52" y1="510.8" x2="19.52" y2="525" stroke="#c6c6c6" stroke-width="0.55"/>
<line x1="20.64" y1="510.8" x2="20.64" y2="525" stroke="#999" stroke-width="0.55"/>
<line x1="21.17" y1="510.8" x2="21.17" y2="525" stroke="#c6c6c6" stroke-width="0.55"/>
<line x1="21.64" y1="510.8" x2="21.64" y2="525" stroke="#cfcfcf" stroke-width="0.55"/>
<line x1="22.43" y1="510.8" x2="22.43" y2="525" stroke="#888" stroke-width="0.55"/>
<line x1="23.16" y1="510.8" x2="23.16" y2="525" stroke="#888" stroke-width="0.55"/>
<line x1="23.67" y1="510.8" x2="23.67" y2="525" stroke="#cfcfcf" stroke-width="0.55"/>
<line x1="24.75" y1="510.8" x2="24.75" y2="525" stroke="#444" stroke-width="0.55"/>
<line x1="25.4" y1="510.8" x2="25.4" y2="525" stroke="#666" stroke-width="0.55"/>
<line x1="26.3" y1="510.8" x2="26.3" y2="525" stroke="#777" stroke-width="0.55"/>
<line x1="26.75" y1="510.8" x2="26.75" y2="525" stroke="#444" stroke-width="0.55"/>
<line x1="27.08" y1="510.8" x2="27.08" y2="525" stroke="#aaa" stroke-width="0.55"/>
<line x1="28.13" y1="510.8" x2="28.13" y2="525" stroke="#bdbdbd" stroke-width="0.55"/>
<line x1="28.85" y1="510.8" x2="28.85" y2="525" stroke="#bdbdbd" stroke-width="0.55"/>
<line x1="29.79" y1="510.8" x2="29.79" y2="525" stroke="#777" stroke-width="0.55"/>
<line x1="30.45" y1="510.8" x2="30.45" y2="525" stroke="#888" stroke-width="0.55"/>
<line x1="31.15" y1="510.8" x2="31.15" y2="525" stroke="#666" stroke-width="0.55"/>
<line x1="32.24" y1="510.8" x2="32.24" y2="525" stroke="#c6c6c6" stroke-width="0.55"/>
<line x1="32.57" y1="510.8" x2="32.57" y2="525" stroke="#bdbdbd" stroke-width="0.55"/>
<line x1="33.07" y1="510.8" x2="33.07" y2="525" stroke="#aaa" stroke-width="0.55"/>
<line x1="34.07" y1="510.8" x2="34.07" y2="525" stroke="#bdbdbd" stroke-width="0.55"/>
<line x1="34.75" y1="510.8" x2="34.75" y2="525" stroke="#cfcfcf" stroke-width="0.55"/>
<line x1="35.56" y1="510.8" x2="35.56" y2="525" stroke="#777" stroke-width="0.55"/>
<line x1="36.39" y1="510.8" x2="36.39" y2="525" stroke="#b4b4b4" stroke-width="0.55"/>
<line x1="36.9" y1="510.8" x2="36.9" y2="525" stroke="#444" stroke-width="0.55"/>
<line x1="37.81" y1="510.8" x2="37.81" y2="525" stroke="#777" stroke-width="0.55"/>
<line x1="38.88" y1="510.8" x2="38.88" y2="525" stroke="#888" stroke-width="0.55"/>
<line x1="39.79" y1="510.8" x2="39.79" y2="525" stroke="#b4b4b4" stroke-width="0.55"/>
<line x1="40.72" y1="510.8" x2="40.72" y2="525" stroke="#777" stroke-width="0.55"/>
<line x1="41.89" y1="510.8" x2="41.89" y2="525" stroke="#999" stroke-width="0.55"/>
<line x1="42.7" y1="510.8" x2="42.7" y2="525" stroke="#777" stroke-width="0.55"/>
<line x1="43.57" y1="510.8" x2="43.57" y2="525" stroke="#666" stroke-width="0.55"/>
<line x1="44.11" y1="510.8" x2="44.11" y2="525" stroke="#c6c6c6" stroke-width="0.55"/>
<line x1="44.46" y1="510.8" x2="44.46" y2="525" stroke="#666" stroke-width="0.55"/>
<line x1="44.84" y1="510.8" x2="44.84" y2="525" stroke="#888" stroke-width="0.55"/>
<line x1="45.51" y1="510.8" x2="45.51" y2="525" stroke="#bdbdbd" stroke-width="0.55"/>
<line x1="45.83" y1="510.8" x2="45.83" y2="525" stroke="#666" stroke-width="0.55"/>
<line x1="46.82" y1="510.8" x2="46.82" y2="525" stroke="#777" stroke-width="0.55"/>
<line x1="47.16" y1="510.8" x2="47.16" y2="525" stroke="#bdbdbd" stroke-width="0.55"/>
<line x1="48.15" y1="510.8" x2="48.15" y2="525" stroke="#b4b4b4" stroke-width="0.55"/>
<line x1="49.1" y1="510.8" x2="49.1" y2="525" stroke="#aaa" stroke-width="0.55"/>
<line x1="49.89" y1="510.8" x2="49.89" y2="525" stroke="#444" stroke-width="0.55"/>
<line x1="50.65" y1="510.8" x2="50.65" y2="525" stroke="#666" stroke-width="0.55"/>
<line x1="51.23" y1="510.8" x2="51.23" y2="525" stroke="#cfcfcf" stroke-width="0.55"/>
<line x1="51.62" y1="510.8" x2="51.62" y2="525" stroke="#999" stroke-width="0.55"/>
<line x1="51.95" y1="510.8" x2="51.95" y2="525" stroke="#aaa" stroke-width="0.55"/>
<line x1="53.12" y1="510.8" x2="53.12" y2="525" stroke="#888" stroke-width="0.55"/>
<line x1="53.97" y1="510.8" x2="53.97" y2="525" stroke="#b4b4b4" stroke-width="0.55"/>
<line x1="54.9" y1="510.8" x2="54.9" y2="525" stroke="#888" stroke-width="0.55"/>
<line x1="55.48" y1="510.8" x2="55.48" y2="525" stroke="#bdbdbd" stroke-width="0.55"/>
<line x1="56.58" y1="510.8" x2="56.58" y2="525" stroke="#cfcfcf" stroke-width="0.55"/>
<line x1="57.22" y1="510.8" x2="57.22" y2="525" stroke="#777" stroke-width="0.55"/>
<line x1="57.87" y1="510.8" x2="57.87" y2="525" stroke="#666" stroke-width="0.55"/>
<line x1="60.55" y1="510.8" x2="60.55" y2="525" stroke="#cfcfcf" stroke-width="0.55"/>
<line x1="63.04" y1="510.8" x2="63.04" y2="525" stroke="#999" stroke-width="0.55"/>
<line x1="64.53" y1="510.8" x2="64.53" y2="525" stroke="#aaa" stroke-width="0.55"/>
<line x1="67.95" y1="510.8" x2="67.95" y2="525" stroke="#bbb" stroke-width="0.55"/>
<line x1="71.48" y1="510.8" x2="71.48" y2="525" stroke="#9a9a9a" stroke-width="0.55"/>
<line x1="73.06" y1="510.8" x2="73.06" y2="525" stroke="#aaa" stroke-width="0.55"/>
<line x1="73.79" y1="510.8" x2="73.79" y2="525" stroke="#9a9a9a" stroke-width="0.55"/>
<line x1="77.36" y1="510.8" x2="77.36" y2="525" stroke="#bbb" stroke-width="0.55"/>
<line x1="78.12" y1="510.8" x2="78.12" y2="525" stroke="#888" stroke-width="0.55"/>
<line x1="80.52" y1="510.8" x2="80.52" y2="525" stroke="#c8c8c8" stroke-width="0.55"/>
<line x1="81.4" y1="510.8" x2="81.4" y2="525" stroke="#9a9a9a" stroke-width="0.55"/>
<line x1="83.06" y1="510.8" x2="83.06" y2="525" stroke="#9a9a9a" stroke-width="0.55"/>
<line x1="85.73" y1="510.8" x2="85.73" y2="525" stroke="#9a9a9a" stroke-width="0.55"/>
<line x1="88.2" y1="510.8" x2="88.2" y2="525" stroke="#5a5a5a" stroke-width="0.55"/>
<line x1="91.04" y1="510.8" x2="91.04" y2="525" stroke="#c8c8c8" stroke-width="0.55"/>
<line x1="93.45" y1="510.8" x2="93.45" y2="525" stroke="#9a9a9a" stroke-width="0.55"/>
<line x1="94.21" y1="510.8" x2="94.21" y2="525" stroke="#aaa" stroke-width="0.55"/>
<line x1="95.64" y1="510.8" x2="95.64" y2="525" stroke="#bbb" stroke-width="0.55"/>
<line x1="97.2" y1="510.8" x2="97.2" y2="525" stroke="#9a9a9a" stroke-width="0.55"/>
<line x1="98.83" y1="510.8" x2="98.83" y2="525" stroke="#d5d5d5" stroke-width="0.55"/>
<line x1="100.07" y1="510.8" x2="100.07" y2="525" stroke="#bbb" stroke-width="0.55"/>
<line x1="104.47" y1="510.8" x2="104.47" y2="525" stroke="#d5d5d5" stroke-width="0.55"/>
<line x1="108.19" y1="510.8" x2="108.19" y2="525" stroke="#d5d5d5" stroke-width="0.55"/>
<line x1="112.64" y1="510.8" x2="112.64" y2="525" stroke="#bbb" stroke-width="0.55"/>
<line x1="119.92" y1="510.8" x2="119.92" y2="525" stroke="#888" stroke-width="0.55"/>
<line x1="126.37" y1="510.8" x2="126.37" y2="525" stroke="#888" stroke-width="0.55"/>
<line x1="130.38" y1="510.8" x2="130.38" y2="525" stroke="#9a9a9a" stroke-width="0.55"/>
<line x1="136.63" y1="510.8" x2="136.63" y2="525" stroke="#888" stroke-width="0.55"/>
<line x1="140.18" y1="510.8" x2="140.18" y2="525" stroke="#c8c8c8" stroke-width="0.55"/>
<line x1="146.59" y1="510.8" x2="146.59" y2="525" stroke="#5a5a5a" stroke-width="0.55"/>
<line x1="153.13" y1="510.8" x2="153.13" y2="525" stroke="#9a9a9a" stroke-width="0.55"/>
<line x1="159.03" y1="510.8" x2="159.03" y2="525" stroke="#888" stroke-width="0.55"/>
<line x1="165.42" y1="510.8" x2="165.42" y2="525" stroke="#d5d5d5" stroke-width="0.55"/>
<line x1="170.27" y1="510.8" x2="170.27" y2="525" stroke="#5a5a5a" stroke-width="0.55"/>
<line x1="178.51" y1="510.8" x2="178.51" y2="525" stroke="#c8c8c8" stroke-width="0.55"/>
<line x1="180.69" y1="510.8" x2="180.69" y2="525" stroke="#bbb" stroke-width="0.55"/>
<line x1="182.45" y1="510.8" x2="182.45" y2="525" stroke="#888" stroke-width="0.55"/>
<line x1="185.03" y1="510.8" x2="185.03" y2="525" stroke="#5a5a5a" stroke-width="0.55"/>
<line x1="188.79" y1="510.8" x2="188.79" y2="525" stroke="#888" stroke-width="0.55"/>
<line x1="191.64" y1="510.8" x2="191.64" y2="525" stroke="#d5d5d5" stroke-width="0.55"/>
<line x1="193.74" y1="510.8" x2="193.74" y2="525" stroke="#888" stroke-width="0.55"/>
<line x1="197.68" y1="510.8" x2="197.68" y2="525" stroke="#9a9a9a" stroke-width="0.55"/>
<rect x="17.5" y="525.4" width="37.85" height="6.2" fill="#dc3530"/>
<rect x="55.3" y="525.4" width="63.05" height="6.2" fill="#f6714f"/>
<rect x="118.3" y="525.4" width="30.85" height="6.2" fill="#fbad92"/>
<rect x="149.1" y="525.4" width="17.85" height="6.2" fill="#fde3d6"/>
<rect x="166.9" y="525.4" width="11.95" height="6.2" fill="#eef1fb"/>
<rect x="178.8" y="525.4" width="6.25" height="6.2" fill="#bcd6e8"/>
<rect x="185" y="525.4" width="5.85" height="6.2" fill="#6aaed6"/>
<rect x="190.8" y="525.4" width="9.65" height="6.2" fill="#3a83c1"/>
<line x1="17.5" y1="532.8" x2="17.5" y2="552.4" stroke="#9a9a9a" stroke-width="0.6"/>
<line x1="17.5" y1="552.4" x2="200.4" y2="552.4" stroke="#9a9a9a" stroke-width="0.6"/>
<line x1="16.2" y1="533.8" x2="17.5" y2="533.8" stroke="#aaa" stroke-width="0.4"/>
<line x1="16.2" y1="540.1" x2="17.5" y2="540.1" stroke="#aaa" stroke-width="0.4"/>
<line x1="16.2" y1="546.4" x2="17.5" y2="546.4" stroke="#aaa" stroke-width="0.4"/>
<line x1="16.2" y1="552.7" x2="17.5" y2="552.7" stroke="#aaa" stroke-width="0.4"/>
<text transform="translate(11.3,542.6) rotate(-90)" font-size="2.4" fill="#999" text-anchor="middle">Ranked List Metric</text>
<polygon points="17.5,545.4 17.5,534.3 19.33,535.65 21.16,536.78 22.99,537.73 24.82,538.54 26.65,539.22 28.47,539.8 30.3,540.3 32.13,540.73 33.96,541.1 35.79,541.42 37.62,541.7 39.45,541.95 41.28,542.17 43.11,542.37 44.94,542.55 46.76,542.7 48.59,542.85 50.42,542.98 52.25,543.1 54.08,543.21 55.91,543.32 57.74,543.41 59.57,543.5 61.4,543.58 63.23,543.66 65.05,543.74 66.88,543.81 68.71,543.87 70.54,543.94 72.37,544 74.2,544.05 76.03,544.11 77.86,544.16 79.69,544.21 81.52,544.26 83.34,544.3 85.17,544.34 87,544.38 88.83,544.42 90.66,544.46 92.49,544.5 94.32,544.53 96.15,544.57 97.98,544.6 99.81,544.63 101.63,544.66 103.46,544.69 105.29,544.72 107.12,544.75 108.95,544.77 110.78,544.8 112.61,544.82 114.44,544.85 116.27,544.87 118.1,544.89 119.92,544.91 121.75,544.93 123.58,544.95 125.41,544.97 127.24,544.99 129.07,545.01 130.9,545.02 132.73,545.04 134.56,545.06 136.38,545.07 138.21,545.09 140.04,545.1 141.87,545.12 143.7,545.13 145.53,545.15 147.36,545.16 149.19,545.17 151.02,545.19 152.85,545.2 154.68,545.21 156.5,545.22 158.33,545.24 160.16,545.25 161.99,545.26 163.82,545.27 165.65,545.28 167.48,545.29 169.31,545.3 171.14,545.4 172.97,545.42 174.79,545.48 176.62,545.58 178.45,545.73 180.28,545.91 182.11,546.13 183.94,546.4 185.77,546.7 187.6,547.05 189.43,547.43 191.25,547.86 193.08,548.32 194.91,548.83 196.74,549.38 198.57,549.97 200.4,550.6 200.4,545.4" fill="#bdbdbd"/>
<line x1="17.5" y1="545.4" x2="200.4" y2="545.4" stroke="#a8a8a8" stroke-width="0.5"/>
<line x1="50.06" y1="552.4" x2="50.06" y2="553.6" stroke="#aaa" stroke-width="0.4"/>
<text x="50.06" y="555.8" font-size="2.4" fill="#aaa" text-anchor="middle">5000</text>
<line x1="83.71" y1="552.4" x2="83.71" y2="553.6" stroke="#aaa" stroke-width="0.4"/>
<text x="83.71" y="555.8" font-size="2.4" fill="#aaa" text-anchor="middle">10000</text>
<line x1="117.36" y1="552.4" x2="117.36" y2="553.6" stroke="#aaa" stroke-width="0.4"/>
<text x="117.36" y="555.8" font-size="2.4" fill="#aaa" text-anchor="middle">15000</text>
<line x1="151.02" y1="552.4" x2="151.02" y2="553.6" stroke="#aaa" stroke-width="0.4"/>
<text x="151.02" y="555.8" font-size="2.4" fill="#aaa" text-anchor="middle">20000</text>
<line x1="184.67" y1="552.4" x2="184.67" y2="553.6" stroke="#aaa" stroke-width="0.4"/>
<text x="184.67" y="555.8" font-size="2.4" fill="#aaa" text-anchor="middle">25000</text>
<text x="108.95" y="558" font-size="2.8" fill="#777" text-anchor="middle">Rank in Ordered Dataset</text>
<rect x="208" y="423.5" width="195.8" height="137" fill="#fff" stroke="#6a6a6a" stroke-width="1.1"/>
<rect x="208.6" y="424.1" width="194.6" height="23.2" fill="#e3e3e3"/>
<text x="224.6" y="440.2" font-family="'Liberation Serif', 'Times New Roman', serif" font-weight="bold" font-size="14" textLength="165.9" lengthAdjust="spacingAndGlyphs">GBM: Fatty acid metabolism</text>
<line x1="233.81" y1="449.4" x2="233.81" y2="508.6" stroke="#f1f1f1" stroke-width="0.6"/>
<line x1="233.81" y1="532.8" x2="233.81" y2="552.4" stroke="#f1f1f1" stroke-width="0.6"/>
<line x1="250.22" y1="449.4" x2="250.22" y2="508.6" stroke="#f1f1f1" stroke-width="0.6"/>
<line x1="250.22" y1="532.8" x2="250.22" y2="552.4" stroke="#f1f1f1" stroke-width="0.6"/>
<line x1="266.63" y1="449.4" x2="266.63" y2="508.6" stroke="#f1f1f1" stroke-width="0.6"/>
<line x1="266.63" y1="532.8" x2="266.63" y2="552.4" stroke="#f1f1f1" stroke-width="0.6"/>
<line x1="283.04" y1="449.4" x2="283.04" y2="508.6" stroke="#f1f1f1" stroke-width="0.6"/>
<line x1="283.04" y1="532.8" x2="283.04" y2="552.4" stroke="#f1f1f1" stroke-width="0.6"/>
<line x1="299.45" y1="449.4" x2="299.45" y2="508.6" stroke="#f1f1f1" stroke-width="0.6"/>
<line x1="299.45" y1="532.8" x2="299.45" y2="552.4" stroke="#f1f1f1" stroke-width="0.6"/>
<line x1="315.86" y1="449.4" x2="315.86" y2="508.6" stroke="#f1f1f1" stroke-width="0.6"/>
<line x1="315.86" y1="532.8" x2="315.86" y2="552.4" stroke="#f1f1f1" stroke-width="0.6"/>
<line x1="332.27" y1="449.4" x2="332.27" y2="508.6" stroke="#f1f1f1" stroke-width="0.6"/>
<line x1="332.27" y1="532.8" x2="332.27" y2="552.4" stroke="#f1f1f1" stroke-width="0.6"/>
<line x1="348.69" y1="449.4" x2="348.69" y2="508.6" stroke="#f1f1f1" stroke-width="0.6"/>
<line x1="348.69" y1="532.8" x2="348.69" y2="552.4" stroke="#f1f1f1" stroke-width="0.6"/>
<line x1="365.1" y1="449.4" x2="365.1" y2="508.6" stroke="#f1f1f1" stroke-width="0.6"/>
<line x1="365.1" y1="532.8" x2="365.1" y2="552.4" stroke="#f1f1f1" stroke-width="0.6"/>
<line x1="381.51" y1="449.4" x2="381.51" y2="508.6" stroke="#f1f1f1" stroke-width="0.6"/>
<line x1="381.51" y1="532.8" x2="381.51" y2="552.4" stroke="#f1f1f1" stroke-width="0.6"/>
<line x1="397.92" y1="449.4" x2="397.92" y2="508.6" stroke="#f1f1f1" stroke-width="0.6"/>
<line x1="397.92" y1="532.8" x2="397.92" y2="552.4" stroke="#f1f1f1" stroke-width="0.6"/>
<line x1="217.4" y1="449.4" x2="217.4" y2="508.6" stroke="#9a9a9a" stroke-width="0.6"/>
<line x1="215.9" y1="459.9" x2="217.4" y2="459.9" stroke="#aaa" stroke-width="0.5"/>
<text x="215.4" y="460.7" font-size="2.4" fill="#aaa" text-anchor="end">0.6</text>
<line x1="215.9" y1="475.8" x2="217.4" y2="475.8" stroke="#aaa" stroke-width="0.5"/>
<text x="215.4" y="476.6" font-size="2.4" fill="#aaa" text-anchor="end">0.4</text>
<line x1="215.9" y1="491.7" x2="217.4" y2="491.7" stroke="#aaa" stroke-width="0.5"/>
<text x="215.4" y="492.5" font-size="2.4" fill="#aaa" text-anchor="end">0.2</text>
<line x1="215.9" y1="507.6" x2="217.4" y2="507.6" stroke="#aaa" stroke-width="0.5"/>
<text x="215.4" y="508.4" font-size="2.4" fill="#aaa" text-anchor="end">0.0</text>
<text transform="translate(211.2,478.5) rotate(-90)" font-size="2.6" fill="#999" text-anchor="middle">Running Enrichment Score</text>
<text x="345.1" y="464.3" font-family="'Liberation Serif', 'Times New Roman', serif" font-weight="bold" font-size="13.4" textLength="45.7" lengthAdjust="spacingAndGlyphs">p=1e-10</text>
<polyline points="217.43,507.89 217.91,504.75 218.53,500.82 219.32,495.63 220.26,490.6 221.21,486.19 222.15,479.59 223.41,477.08 224.35,474.09 225.3,469.37 226.55,467.01 227.5,465.8 228.44,464.97 229.23,464.71 230.01,463.9 230.8,462.61 231.58,461.97 232.37,460.41 233.16,459.47 233.94,457.89 234.97,457.36 235.99,456.01 236.88,454.93 237.77,455.1 238.66,454.43 239.55,453.74 240.44,453.85 241.33,453.18 242.12,453.22 242.91,453.48 243.69,453.58 244.48,453.65 245.21,453.6 245.95,453.75 246.68,453.78 247.41,452.95 248.15,453.33 248.88,452.86 249.75,453.21 250.61,452.59 251.47,452.21 252.34,452.55 253.05,452.35 253.75,452.45 254.46,451.98 255.17,451.76 256.03,451.53 256.9,452.22 257.76,451.92 258.63,452.23 259.35,452.78 260.08,452.12 260.8,452.71 261.52,452.61 262.25,452.86 262.95,453.66 263.66,452.99 264.37,454.07 265.08,453.82 265.78,454.03 266.49,454.43 267.22,454.37 267.96,454.95 268.69,455.69 269.43,456.03 270.16,456.23 270.89,456.01 274.97,457.62 279.04,459.23 283.11,460.84 287.18,462.46 291.25,464.07 295.33,465.68 299.4,467.29 303.47,468.9 307.54,470.52 311.61,472.13 315.69,473.74 319.76,475.35 323.83,476.97 327.9,478.58 331.97,480.19 336.05,481.8 340.12,483.42 344.19,485.03 348.26,486.64 352.33,488.25 356.41,489.86 360.48,491.48 364.55,493.09 368.62,494.7 372.7,496.31 376.77,497.93 380.84,499.54 384.91,501.15 388.98,502.76 393.06,504.38 397.13,505.99 401.2,507.6" fill="none" stroke="#f25a55" stroke-width="0.85" stroke-linejoin="round"/>
<line x1="217.4" y1="510.8" x2="217.4" y2="525" stroke="#b4b4b4" stroke-width="0.55"/>
<line x1="218.26" y1="510.8" x2="218.26" y2="525" stroke="#cfcfcf" stroke-width="0.55"/>
<line x1="219.28" y1="510.8" x2="219.28" y2="525" stroke="#c6c6c6" stroke-width="0.55"/>
<line x1="219.6" y1="510.8" x2="219.6" y2="525" stroke="#999" stroke-width="0.55"/>
<line x1="220.6" y1="510.8" x2="220.6" y2="525" stroke="#888" stroke-width="0.55"/>
<line x1="221.48" y1="510.8" x2="221.48" y2="525" stroke="#c6c6c6" stroke-width="0.55"/>
<line x1="221.89" y1="510.8" x2="221.89" y2="525" stroke="#bdbdbd" stroke-width="0.55"/>
<line x1="222.97" y1="510.8" x2="222.97" y2="525" stroke="#777" stroke-width="0.55"/>
<line x1="223.76" y1="510.8" x2="223.76" y2="525" stroke="#999" stroke-width="0.55"/>
<line x1="224.28" y1="510.8" x2="224.28" y2="525" stroke="#888" stroke-width="0.55"/>
<line x1="224.95" y1="510.8" x2="224.95" y2="525" stroke="#bdbdbd" stroke-width="0.55"/>
<line x1="226.07" y1="510.8" x2="226.07" y2="525" stroke="#666" stroke-width="0.55"/>
<line x1="226.52" y1="510.8" x2="226.52" y2="525" stroke="#777" stroke-width="0.55"/>
<line x1="226.94" y1="510.8" x2="226.94" y2="525" stroke="#888" stroke-width="0.55"/>
<line x1="227.64" y1="510.8" x2="227.64" y2="525" stroke="#444" stroke-width="0.55"/>
<line x1="227.94" y1="510.8" x2="227.94" y2="525" stroke="#999" stroke-width="0.55"/>
<line x1="228.43" y1="510.8" x2="228.43" y2="525" stroke="#888" stroke-width="0.55"/>
<line x1="229.6" y1="510.8" x2="229.6" y2="525" stroke="#aaa" stroke-width="0.55"/>
<line x1="230.68" y1="510.8" x2="230.68" y2="525" stroke="#999" stroke-width="0.55"/>
<line x1="231.26" y1="510.8" x2="231.26" y2="525" stroke="#999" stroke-width="0.55"/>
<line x1="232.05" y1="510.8" x2="232.05" y2="525" stroke="#999" stroke-width="0.55"/>
<line x1="232.51" y1="510.8" x2="232.51" y2="525" stroke="#bdbdbd" stroke-width="0.55"/>
<line x1="233.68" y1="510.8" x2="233.68" y2="525" stroke="#b4b4b4" stroke-width="0.55"/>
<line x1="234.25" y1="510.8" x2="234.25" y2="525" stroke="#888" stroke-width="0.55"/>
<line x1="234.93" y1="510.8" x2="234.93" y2="525" stroke="#b4b4b4" stroke-width="0.55"/>
<line x1="235.46" y1="510.8" x2="235.46" y2="525" stroke="#777" stroke-width="0.55"/>
<line x1="236.03" y1="510.8" x2="236.03" y2="525" stroke="#777" stroke-width="0.55"/>
<line x1="236.86" y1="510.8" x2="236.86" y2="525" stroke="#b4b4b4" stroke-width="0.55"/>
<line x1="237.77" y1="510.8" x2="237.77" y2="525" stroke="#b4b4b4" stroke-width="0.55"/>
<line x1="238.13" y1="510.8" x2="238.13" y2="525" stroke="#c6c6c6" stroke-width="0.55"/>
<line x1="239.17" y1="510.8" x2="239.17" y2="525" stroke="#888" stroke-width="0.55"/>
<line x1="240.09" y1="510.8" x2="240.09" y2="525" stroke="#888" stroke-width="0.55"/>
<line x1="240.83" y1="510.8" x2="240.83" y2="525" stroke="#444" stroke-width="0.55"/>
<line x1="241.18" y1="510.8" x2="241.18" y2="525" stroke="#b4b4b4" stroke-width="0.55"/>
<line x1="242.33" y1="510.8" x2="242.33" y2="525" stroke="#444" stroke-width="0.55"/>
<line x1="243.39" y1="510.8" x2="243.39" y2="525" stroke="#bdbdbd" stroke-width="0.55"/>
<line x1="244.19" y1="510.8" x2="244.19" y2="525" stroke="#777" stroke-width="0.55"/>
<line x1="244.82" y1="510.8" x2="244.82" y2="525" stroke="#c6c6c6" stroke-width="0.55"/>
<line x1="245.87" y1="510.8" x2="245.87" y2="525" stroke="#888" stroke-width="0.55"/>
<line x1="246.22" y1="510.8" x2="246.22" y2="525" stroke="#999" stroke-width="0.55"/>
<line x1="247.08" y1="510.8" x2="247.08" y2="525" stroke="#999" stroke-width="0.55"/>
<line x1="247.49" y1="510.8" x2="247.49" y2="525" stroke="#c6c6c6" stroke-width="0.55"/>
<line x1="248.62" y1="510.8" x2="248.62" y2="525" stroke="#b4b4b4" stroke-width="0.55"/>
<line x1="249.23" y1="510.8" x2="249.23" y2="525" stroke="#aaa" stroke-width="0.55"/>
<line x1="250.34" y1="510.8" x2="250.34" y2="525" stroke="#666" stroke-width="0.55"/>
<line x1="251.33" y1="510.8" x2="251.33" y2="525" stroke="#b4b4b4" stroke-width="0.55"/>
<line x1="252.16" y1="510.8" x2="252.16" y2="525" stroke="#444" stroke-width="0.55"/>
<line x1="253.24" y1="510.8" x2="253.24" y2="525" stroke="#666" stroke-width="0.55"/>
<line x1="253.93" y1="510.8" x2="253.93" y2="525" stroke="#cfcfcf" stroke-width="0.55"/>
<line x1="254.42" y1="510.8" x2="254.42" y2="525" stroke="#888" stroke-width="0.55"/>
<line x1="255.27" y1="510.8" x2="255.27" y2="525" stroke="#cfcfcf" stroke-width="0.55"/>
<line x1="255.87" y1="510.8" x2="255.87" y2="525" stroke="#b4b4b4" stroke-width="0.55"/>
<line x1="256.25" y1="510.8" x2="256.25" y2="525" stroke="#666" stroke-width="0.55"/>
<line x1="256.83" y1="510.8" x2="256.83" y2="525" stroke="#aaa" stroke-width="0.55"/>
<line x1="257.69" y1="510.8" x2="257.69" y2="525" stroke="#888" stroke-width="0.55"/>
<line x1="258.89" y1="510.8" x2="258.89" y2="525" stroke="#666" stroke-width="0.55"/>
<line x1="259.84" y1="510.8" x2="259.84" y2="525" stroke="#cfcfcf" stroke-width="0.55"/>
<line x1="261.03" y1="510.8" x2="261.03" y2="525" stroke="#444" stroke-width="0.55"/>
<line x1="262.16" y1="510.8" x2="262.16" y2="525" stroke="#777" stroke-width="0.55"/>
<line x1="262.67" y1="510.8" x2="262.67" y2="525" stroke="#aaa" stroke-width="0.55"/>
<line x1="263.28" y1="510.8" x2="263.28" y2="525" stroke="#bdbdbd" stroke-width="0.55"/>
<line x1="263.99" y1="510.8" x2="263.99" y2="525" stroke="#444" stroke-width="0.55"/>
<line x1="265.11" y1="510.8" x2="265.11" y2="525" stroke="#b4b4b4" stroke-width="0.55"/>
<line x1="268.14" y1="510.8" x2="268.14" y2="525" stroke="#888" stroke-width="0.55"/>
<line x1="271.27" y1="510.8" x2="271.27" y2="525" stroke="#bbb" stroke-width="0.55"/>
<line x1="274.82" y1="510.8" x2="274.82" y2="525" stroke="#c8c8c8" stroke-width="0.55"/>
<line x1="278.27" y1="510.8" x2="278.27" y2="525" stroke="#aaa" stroke-width="0.55"/>
<line x1="281.57" y1="510.8" x2="281.57" y2="525" stroke="#aaa" stroke-width="0.55"/>
<line x1="282.58" y1="510.8" x2="282.58" y2="525" stroke="#5a5a5a" stroke-width="0.55"/>
<line x1="284.36" y1="510.8" x2="284.36" y2="525" stroke="#9a9a9a" stroke-width="0.55"/>
<line x1="287.51" y1="510.8" x2="287.51" y2="525" stroke="#bbb" stroke-width="0.55"/>
<line x1="288.62" y1="510.8" x2="288.62" y2="525" stroke="#bbb" stroke-width="0.55"/>
<line x1="291.79" y1="510.8" x2="291.79" y2="525" stroke="#aaa" stroke-width="0.55"/>
<line x1="293.81" y1="510.8" x2="293.81" y2="525" stroke="#9a9a9a" stroke-width="0.55"/>
<line x1="296.5" y1="510.8" x2="296.5" y2="525" stroke="#9a9a9a" stroke-width="0.55"/>
<line x1="298.59" y1="510.8" x2="298.59" y2="525" stroke="#888" stroke-width="0.55"/>
<line x1="300.66" y1="510.8" x2="300.66" y2="525" stroke="#d5d5d5" stroke-width="0.55"/>
<line x1="301.68" y1="510.8" x2="301.68" y2="525" stroke="#888" stroke-width="0.55"/>
<line x1="305.25" y1="510.8" x2="305.25" y2="525" stroke="#aaa" stroke-width="0.55"/>
<line x1="307.77" y1="510.8" x2="307.77" y2="525" stroke="#888" stroke-width="0.55"/>
<line x1="310.98" y1="510.8" x2="310.98" y2="525" stroke="#9a9a9a" stroke-width="0.55"/>
<line x1="313.56" y1="510.8" x2="313.56" y2="525" stroke="#bbb" stroke-width="0.55"/>
<line x1="318.91" y1="510.8" x2="318.91" y2="525" stroke="#9a9a9a" stroke-width="0.55"/>
<line x1="326.55" y1="510.8" x2="326.55" y2="525" stroke="#d5d5d5" stroke-width="0.55"/>
<line x1="328.96" y1="510.8" x2="328.96" y2="525" stroke="#c8c8c8" stroke-width="0.55"/>
<line x1="336" y1="510.8" x2="336" y2="525" stroke="#5a5a5a" stroke-width="0.55"/>
<line x1="341.82" y1="510.8" x2="341.82" y2="525" stroke="#9a9a9a" stroke-width="0.55"/>
<line x1="348.75" y1="510.8" x2="348.75" y2="525" stroke="#c8c8c8" stroke-width="0.55"/>
<line x1="354.39" y1="510.8" x2="354.39" y2="525" stroke="#aaa" stroke-width="0.55"/>
<line x1="358.21" y1="510.8" x2="358.21" y2="525" stroke="#c8c8c8" stroke-width="0.55"/>
<line x1="361.94" y1="510.8" x2="361.94" y2="525" stroke="#9a9a9a" stroke-width="0.55"/>
<line x1="368.59" y1="510.8" x2="368.59" y2="525" stroke="#bbb" stroke-width="0.55"/>
<line x1="374.81" y1="510.8" x2="374.81" y2="525" stroke="#aaa" stroke-width="0.55"/>
<line x1="382.35" y1="510.8" x2="382.35" y2="525" stroke="#9a9a9a" stroke-width="0.55"/>
<line x1="385.26" y1="510.8" x2="385.26" y2="525" stroke="#9a9a9a" stroke-width="0.55"/>
<line x1="387.41" y1="510.8" x2="387.41" y2="525" stroke="#d5d5d5" stroke-width="0.55"/>
<line x1="390.03" y1="510.8" x2="390.03" y2="525" stroke="#c8c8c8" stroke-width="0.55"/>
<line x1="392.78" y1="510.8" x2="392.78" y2="525" stroke="#9a9a9a" stroke-width="0.55"/>
<line x1="396.57" y1="510.8" x2="396.57" y2="525" stroke="#9a9a9a" stroke-width="0.55"/>
<line x1="398.53" y1="510.8" x2="398.53" y2="525" stroke="#d5d5d5" stroke-width="0.55"/>
<rect x="217.4" y="525.4" width="82.65" height="6.2" fill="#dc3530"/>
<rect x="300" y="525.4" width="39.95" height="6.2" fill="#f6714f"/>
<rect x="339.9" y="525.4" width="25.65" height="6.2" fill="#fbad92"/>
<rect x="365.5" y="525.4" width="13.75" height="6.2" fill="#fde3d6"/>
<rect x="379.2" y="525.4" width="7.25" height="6.2" fill="#eef1fb"/>
<rect x="386.4" y="525.4" width="6.65" height="6.2" fill="#bcd6e8"/>
<rect x="393" y="525.4" width="4.85" height="6.2" fill="#6aaed6"/>
<rect x="397.8" y="525.4" width="3.45" height="6.2" fill="#3a83c1"/>
<line x1="217.4" y1="532.8" x2="217.4" y2="552.4" stroke="#9a9a9a" stroke-width="0.6"/>
<line x1="217.4" y1="552.4" x2="401.2" y2="552.4" stroke="#9a9a9a" stroke-width="0.6"/>
<line x1="216.1" y1="533.8" x2="217.4" y2="533.8" stroke="#aaa" stroke-width="0.4"/>
<line x1="216.1" y1="540.1" x2="217.4" y2="540.1" stroke="#aaa" stroke-width="0.4"/>
<line x1="216.1" y1="546.4" x2="217.4" y2="546.4" stroke="#aaa" stroke-width="0.4"/>
<line x1="216.1" y1="552.7" x2="217.4" y2="552.7" stroke="#aaa" stroke-width="0.4"/>
<text transform="translate(211.2,542.6) rotate(-90)" font-size="2.4" fill="#999" text-anchor="middle">Ranked List Metric</text>
<polygon points="217.4,545.4 217.4,534.3 219.24,535.65 221.08,536.78 222.91,537.73 224.75,538.54 226.59,539.22 228.43,539.8 230.27,540.3 232.1,540.73 233.94,541.1 235.78,541.42 237.62,541.7 239.46,541.95 241.29,542.17 243.13,542.37 244.97,542.55 246.81,542.7 248.65,542.85 250.48,542.98 252.32,543.1 254.16,543.21 256,543.32 257.84,543.41 259.67,543.5 261.51,543.58 263.35,543.66 265.19,543.74 267.03,543.81 268.86,543.87 270.7,543.94 272.54,544 274.38,544.05 276.22,544.11 278.05,544.16 279.89,544.21 281.73,544.26 283.57,544.3 285.41,544.34 287.24,544.38 289.08,544.42 290.92,544.46 292.76,544.5 294.6,544.53 296.43,544.57 298.27,544.6 300.11,544.63 301.95,544.66 303.79,544.69 305.62,544.72 307.46,544.75 309.3,544.77 311.14,544.8 312.98,544.82 314.81,544.85 316.65,544.87 318.49,544.89 320.33,544.91 322.17,544.93 324,544.95 325.84,544.97 327.68,544.99 329.52,545.01 331.36,545.02 333.19,545.04 335.03,545.06 336.87,545.07 338.71,545.09 340.55,545.1 342.38,545.12 344.22,545.13 346.06,545.15 347.9,545.16 349.74,545.17 351.57,545.19 353.41,545.2 355.25,545.21 357.09,545.22 358.93,545.24 360.76,545.25 362.6,545.26 364.44,545.27 366.28,545.28 368.12,545.29 369.95,545.3 371.79,545.4 373.63,545.42 375.47,545.48 377.31,545.58 379.14,545.73 380.98,545.91 382.82,546.13 384.66,546.4 386.5,546.7 388.33,547.05 390.17,547.43 392.01,547.86 393.85,548.32 395.69,548.83 397.52,549.38 399.36,549.97 401.2,550.6 401.2,545.4" fill="#bdbdbd"/>
<line x1="217.4" y1="545.4" x2="401.2" y2="545.4" stroke="#a8a8a8" stroke-width="0.5"/>
<line x1="250.12" y1="552.4" x2="250.12" y2="553.6" stroke="#aaa" stroke-width="0.4"/>
<text x="250.12" y="555.8" font-size="2.4" fill="#aaa" text-anchor="middle">5000</text>
<line x1="283.94" y1="552.4" x2="283.94" y2="553.6" stroke="#aaa" stroke-width="0.4"/>
<text x="283.94" y="555.8" font-size="2.4" fill="#aaa" text-anchor="middle">10000</text>
<line x1="317.75" y1="552.4" x2="317.75" y2="553.6" stroke="#aaa" stroke-width="0.4"/>
<text x="317.75" y="555.8" font-size="2.4" fill="#aaa" text-anchor="middle">15000</text>
<line x1="351.57" y1="552.4" x2="351.57" y2="553.6" stroke="#aaa" stroke-width="0.4"/>
<text x="351.57" y="555.8" font-size="2.4" fill="#aaa" text-anchor="middle">20000</text>
<line x1="385.39" y1="552.4" x2="385.39" y2="553.6" stroke="#aaa" stroke-width="0.4"/>
<text x="385.39" y="555.8" font-size="2.4" fill="#aaa" text-anchor="middle">25000</text>
<text x="309.3" y="558" font-size="2.8" fill="#777" text-anchor="middle">Rank in Ordered Dataset</text>
<rect x="8.6" y="573" width="196.2" height="137" fill="#fff" stroke="#6a6a6a" stroke-width="1.1"/>
<rect x="9.2" y="573.6" width="195" height="23.2" fill="#e3e3e3"/>
<text x="36.8" y="589.3" font-family="'Liberation Serif', 'Times New Roman', serif" font-weight="bold" font-size="14" textLength="147.1" lengthAdjust="spacingAndGlyphs">LGG: mTORC1 signaling</text>
<line x1="34.88" y1="598.8" x2="34.88" y2="658" stroke="#f1f1f1" stroke-width="0.6"/>
<line x1="34.88" y1="682.2" x2="34.88" y2="701.8" stroke="#f1f1f1" stroke-width="0.6"/>
<line x1="51.25" y1="598.8" x2="51.25" y2="658" stroke="#f1f1f1" stroke-width="0.6"/>
<line x1="51.25" y1="682.2" x2="51.25" y2="701.8" stroke="#f1f1f1" stroke-width="0.6"/>
<line x1="67.62" y1="598.8" x2="67.62" y2="658" stroke="#f1f1f1" stroke-width="0.6"/>
<line x1="67.62" y1="682.2" x2="67.62" y2="701.8" stroke="#f1f1f1" stroke-width="0.6"/>
<line x1="84" y1="598.8" x2="84" y2="658" stroke="#f1f1f1" stroke-width="0.6"/>
<line x1="84" y1="682.2" x2="84" y2="701.8" stroke="#f1f1f1" stroke-width="0.6"/>
<line x1="100.38" y1="598.8" x2="100.38" y2="658" stroke="#f1f1f1" stroke-width="0.6"/>
<line x1="100.38" y1="682.2" x2="100.38" y2="701.8" stroke="#f1f1f1" stroke-width="0.6"/>
<line x1="116.75" y1="598.8" x2="116.75" y2="658" stroke="#f1f1f1" stroke-width="0.6"/>
<line x1="116.75" y1="682.2" x2="116.75" y2="701.8" stroke="#f1f1f1" stroke-width="0.6"/>
<line x1="133.12" y1="598.8" x2="133.12" y2="658" stroke="#f1f1f1" stroke-width="0.6"/>
<line x1="133.12" y1="682.2" x2="133.12" y2="701.8" stroke="#f1f1f1" stroke-width="0.6"/>
<line x1="149.5" y1="598.8" x2="149.5" y2="658" stroke="#f1f1f1" stroke-width="0.6"/>
<line x1="149.5" y1="682.2" x2="149.5" y2="701.8" stroke="#f1f1f1" stroke-width="0.6"/>
<line x1="165.88" y1="598.8" x2="165.88" y2="658" stroke="#f1f1f1" stroke-width="0.6"/>
<line x1="165.88" y1="682.2" x2="165.88" y2="701.8" stroke="#f1f1f1" stroke-width="0.6"/>
<line x1="182.25" y1="598.8" x2="182.25" y2="658" stroke="#f1f1f1" stroke-width="0.6"/>
<line x1="182.25" y1="682.2" x2="182.25" y2="701.8" stroke="#f1f1f1" stroke-width="0.6"/>
<line x1="198.63" y1="598.8" x2="198.63" y2="658" stroke="#f1f1f1" stroke-width="0.6"/>
<line x1="198.63" y1="682.2" x2="198.63" y2="701.8" stroke="#f1f1f1" stroke-width="0.6"/>
<line x1="18.5" y1="598.8" x2="18.5" y2="658" stroke="#9a9a9a" stroke-width="0.6"/>
<line x1="17" y1="610.5" x2="18.5" y2="610.5" stroke="#aaa" stroke-width="0.5"/>
<text x="16.5" y="611.3" font-size="2.4" fill="#aaa" text-anchor="end">0.6</text>
<line x1="17" y1="626" x2="18.5" y2="626" stroke="#aaa" stroke-width="0.5"/>
<text x="16.5" y="626.8" font-size="2.4" fill="#aaa" text-anchor="end">0.4</text>
<line x1="17" y1="641.5" x2="18.5" y2="641.5" stroke="#aaa" stroke-width="0.5"/>
<text x="16.5" y="642.3" font-size="2.4" fill="#aaa" text-anchor="end">0.2</text>
<line x1="17" y1="657" x2="18.5" y2="657" stroke="#aaa" stroke-width="0.5"/>
<text x="16.5" y="657.8" font-size="2.4" fill="#aaa" text-anchor="end">0.0</text>
<text transform="translate(12.3,627.9) rotate(-90)" font-size="2.6" fill="#999" text-anchor="middle">Running Enrichment Score</text>
<text x="150.8" y="614" font-family="'Liberation Serif', 'Times New Roman', serif" font-weight="bold" font-size="13.4" textLength="44.5" lengthAdjust="spacingAndGlyphs">p=1e-10</text>
<polyline points="18.53,657.11 19.01,652.39 19.48,648.46 20.26,645 21.36,641.86 22.47,636.19 23.72,630.85 24.51,627.23 25.3,623.62 26.08,620.69 26.87,618.27 28.13,614.18 29.07,612.45 30.01,610.41 30.96,609.18 31.9,608.52 32.74,607.44 33.58,606.94 34.42,605.38 35.31,604.5 36.2,604.34 37.09,604.12 37.87,603.79 38.66,602.62 39.45,602.55 40.23,601.75 41.02,602.07 41.81,601.29 42.7,601.97 43.59,601.41 44.48,601.76 45.19,601.5 45.89,602.44 46.6,601.81 47.31,602.08 48.17,602.11 49.04,602.04 49.9,601.99 50.77,601.76 51.5,602.3 52.23,602.43 52.97,602.21 53.7,602.43 54.44,602.48 55.17,602.23 55.96,602.36 56.74,602.1 57.53,601.85 58.31,601.87 59.1,602.57 59.89,602.08 60.75,602.57 61.62,602.19 62.48,603.35 63.35,603.18 64.08,603.13 64.81,603.81 65.55,603.76 66.28,603.76 67.01,603.9 67.75,604.43 68.53,604.78 69.32,604.85 70.11,605.34 70.89,605.67 71.68,606.06 72.47,606.36 73.25,606.36 74.04,606.48 78.16,608.1 82.29,609.72 86.41,611.35 90.54,612.97 94.66,614.59 98.79,616.22 102.91,617.84 107.03,619.46 111.16,621.09 115.28,622.71 119.41,624.33 123.53,625.96 127.66,627.58 131.78,629.2 135.91,630.83 140.03,632.45 144.16,634.07 148.28,635.7 152.4,637.32 156.53,638.94 160.65,640.57 164.78,642.19 168.9,643.81 173.03,645.44 177.15,647.06 181.28,648.68 185.4,650.31 189.53,651.93 193.65,653.55 197.78,655.18 201.9,656.8" fill="none" stroke="#f25a55" stroke-width="0.85" stroke-linejoin="round"/>
<line x1="18.5" y1="660.2" x2="18.5" y2="674.4" stroke="#888" stroke-width="0.55"/>
<line x1="19.09" y1="660.2" x2="19.09" y2="674.4" stroke="#444" stroke-width="0.55"/>
<line x1="19.75" y1="660.2" x2="19.75" y2="674.4" stroke="#cfcfcf" stroke-width="0.55"/>
<line x1="20.11" y1="660.2" x2="20.11" y2="674.4" stroke="#777" stroke-width="0.55"/>
<line x1="20.5" y1="660.2" x2="20.5" y2="674.4" stroke="#cfcfcf" stroke-width="0.55"/>
<line x1="20.85" y1="660.2" x2="20.85" y2="674.4" stroke="#666" stroke-width="0.55"/>
<line x1="21.34" y1="660.2" x2="21.34" y2="674.4" stroke="#666" stroke-width="0.55"/>
<line x1="22.03" y1="660.2" x2="22.03" y2="674.4" stroke="#cfcfcf" stroke-width="0.55"/>
<line x1="22.55" y1="660.2" x2="22.55" y2="674.4" stroke="#777" stroke-width="0.55"/>
<line x1="23.23" y1="660.2" x2="23.23" y2="674.4" stroke="#999" stroke-width="0.55"/>
<line x1="23.64" y1="660.2" x2="23.64" y2="674.4" stroke="#777" stroke-width="0.55"/>
<line x1="24.51" y1="660.2" x2="24.51" y2="674.4" stroke="#777" stroke-width="0.55"/>
<line x1="25.66" y1="660.2" x2="25.66" y2="674.4" stroke="#444" stroke-width="0.55"/>
<line x1="26.49" y1="660.2" x2="26.49" y2="674.4" stroke="#444" stroke-width="0.55"/>
<line x1="27.67" y1="660.2" x2="27.67" y2="674.4" stroke="#888" stroke-width="0.55"/>
<line x1="28.47" y1="660.2" x2="28.47" y2="674.4" stroke="#888" stroke-width="0.55"/>
<line x1="29.03" y1="660.2" x2="29.03" y2="674.4" stroke="#777" stroke-width="0.55"/>
<line x1="29.82" y1="660.2" x2="29.82" y2="674.4" stroke="#888" stroke-width="0.55"/>
<line x1="30.39" y1="660.2" x2="30.39" y2="674.4" stroke="#777" stroke-width="0.55"/>
<line x1="30.79" y1="660.2" x2="30.79" y2="674.4" stroke="#b4b4b4" stroke-width="0.55"/>
<line x1="31.66" y1="660.2" x2="31.66" y2="674.4" stroke="#666" stroke-width="0.55"/>
<line x1="32.05" y1="660.2" x2="32.05" y2="674.4" stroke="#777" stroke-width="0.55"/>
<line x1="32.86" y1="660.2" x2="32.86" y2="674.4" stroke="#cfcfcf" stroke-width="0.55"/>
<line x1="33.34" y1="660.2" x2="33.34" y2="674.4" stroke="#b4b4b4" stroke-width="0.55"/>
<line x1="34.03" y1="660.2" x2="34.03" y2="674.4" stroke="#c6c6c6" stroke-width="0.55"/>
<line x1="34.75" y1="660.2" x2="34.75" y2="674.4" stroke="#999" stroke-width="0.55"/>
<line x1="35.37" y1="660.2" x2="35.37" y2="674.4" stroke="#999" stroke-width="0.55"/>
<line x1="36.39" y1="660.2" x2="36.39" y2="674.4" stroke="#aaa" stroke-width="0.55"/>
<line x1="36.76" y1="660.2" x2="36.76" y2="674.4" stroke="#b4b4b4" stroke-width="0.55"/>
<line x1="37.53" y1="660.2" x2="37.53" y2="674.4" stroke="#aaa" stroke-width="0.55"/>
<line x1="38.49" y1="660.2" x2="38.49" y2="674.4" stroke="#666" stroke-width="0.55"/>
<line x1="39.34" y1="660.2" x2="39.34" y2="674.4" stroke="#bdbdbd" stroke-width="0.55"/>
<line x1="39.74" y1="660.2" x2="39.74" y2="674.4" stroke="#b4b4b4" stroke-width="0.55"/>
<line x1="40.19" y1="660.2" x2="40.19" y2="674.4" stroke="#c6c6c6" stroke-width="0.55"/>
<line x1="40.63" y1="660.2" x2="40.63" y2="674.4" stroke="#666" stroke-width="0.55"/>
<line x1="41.31" y1="660.2" x2="41.31" y2="674.4" stroke="#777" stroke-width="0.55"/>
<line x1="42.3" y1="660.2" x2="42.3" y2="674.4" stroke="#b4b4b4" stroke-width="0.55"/>
<line x1="43.31" y1="660.2" x2="43.31" y2="674.4" stroke="#b4b4b4" stroke-width="0.55"/>
<line x1="43.91" y1="660.2" x2="43.91" y2="674.4" stroke="#777" stroke-width="0.55"/>
<line x1="44.75" y1="660.2" x2="44.75" y2="674.4" stroke="#666" stroke-width="0.55"/>
<line x1="45.77" y1="660.2" x2="45.77" y2="674.4" stroke="#aaa" stroke-width="0.55"/>
<line x1="46.82" y1="660.2" x2="46.82" y2="674.4" stroke="#666" stroke-width="0.55"/>
<line x1="47.55" y1="660.2" x2="47.55" y2="674.4" stroke="#aaa" stroke-width="0.55"/>
<line x1="47.9" y1="660.2" x2="47.9" y2="674.4" stroke="#c6c6c6" stroke-width="0.55"/>
<line x1="48.79" y1="660.2" x2="48.79" y2="674.4" stroke="#bdbdbd" stroke-width="0.55"/>
<line x1="49.34" y1="660.2" x2="49.34" y2="674.4" stroke="#b4b4b4" stroke-width="0.55"/>
<line x1="50.44" y1="660.2" x2="50.44" y2="674.4" stroke="#c6c6c6" stroke-width="0.55"/>
<line x1="50.76" y1="660.2" x2="50.76" y2="674.4" stroke="#777" stroke-width="0.55"/>
<line x1="51.38" y1="660.2" x2="51.38" y2="674.4" stroke="#444" stroke-width="0.55"/>
<line x1="51.79" y1="660.2" x2="51.79" y2="674.4" stroke="#aaa" stroke-width="0.55"/>
<line x1="52.28" y1="660.2" x2="52.28" y2="674.4" stroke="#999" stroke-width="0.55"/>
<line x1="52.7" y1="660.2" x2="52.7" y2="674.4" stroke="#c6c6c6" stroke-width="0.55"/>
<line x1="53.36" y1="660.2" x2="53.36" y2="674.4" stroke="#c6c6c6" stroke-width="0.55"/>
<line x1="53.73" y1="660.2" x2="53.73" y2="674.4" stroke="#aaa" stroke-width="0.55"/>
<line x1="54.39" y1="660.2" x2="54.39" y2="674.4" stroke="#bdbdbd" stroke-width="0.55"/>
<line x1="55.49" y1="660.2" x2="55.49" y2="674.4" stroke="#aaa" stroke-width="0.55"/>
<line x1="56.56" y1="660.2" x2="56.56" y2="674.4" stroke="#b4b4b4" stroke-width="0.55"/>
<line x1="57.5" y1="660.2" x2="57.5" y2="674.4" stroke="#bdbdbd" stroke-width="0.55"/>
<line x1="58.41" y1="660.2" x2="58.41" y2="674.4" stroke="#888" stroke-width="0.55"/>
<line x1="59.58" y1="660.2" x2="59.58" y2="674.4" stroke="#888" stroke-width="0.55"/>
<line x1="59.95" y1="660.2" x2="59.95" y2="674.4" stroke="#999" stroke-width="0.55"/>
<line x1="60.46" y1="660.2" x2="60.46" y2="674.4" stroke="#777" stroke-width="0.55"/>
<line x1="60.77" y1="660.2" x2="60.77" y2="674.4" stroke="#aaa" stroke-width="0.55"/>
<line x1="61.23" y1="660.2" x2="61.23" y2="674.4" stroke="#bdbdbd" stroke-width="0.55"/>
<line x1="61.54" y1="660.2" x2="61.54" y2="674.4" stroke="#777" stroke-width="0.55"/>
<line x1="62.32" y1="660.2" x2="62.32" y2="674.4" stroke="#888" stroke-width="0.55"/>
<line x1="63.13" y1="660.2" x2="63.13" y2="674.4" stroke="#cfcfcf" stroke-width="0.55"/>
<line x1="65.83" y1="660.2" x2="65.83" y2="674.4" stroke="#444" stroke-width="0.55"/>
<line x1="69.29" y1="660.2" x2="69.29" y2="674.4" stroke="#d5d5d5" stroke-width="0.55"/>
<line x1="71.31" y1="660.2" x2="71.31" y2="674.4" stroke="#d5d5d5" stroke-width="0.55"/>
<line x1="74.27" y1="660.2" x2="74.27" y2="674.4" stroke="#bbb" stroke-width="0.55"/>
<line x1="76.95" y1="660.2" x2="76.95" y2="674.4" stroke="#aaa" stroke-width="0.55"/>
<line x1="78.78" y1="660.2" x2="78.78" y2="674.4" stroke="#aaa" stroke-width="0.55"/>
<line x1="80.63" y1="660.2" x2="80.63" y2="674.4" stroke="#5a5a5a" stroke-width="0.55"/>
<line x1="83.17" y1="660.2" x2="83.17" y2="674.4" stroke="#888" stroke-width="0.55"/>
<line x1="84.42" y1="660.2" x2="84.42" y2="674.4" stroke="#5a5a5a" stroke-width="0.55"/>
<line x1="86.4" y1="660.2" x2="86.4" y2="674.4" stroke="#5a5a5a" stroke-width="0.55"/>
<line x1="88.08" y1="660.2" x2="88.08" y2="674.4" stroke="#bbb" stroke-width="0.55"/>
<line x1="89.08" y1="660.2" x2="89.08" y2="674.4" stroke="#5a5a5a" stroke-width="0.55"/>
<line x1="90.22" y1="660.2" x2="90.22" y2="674.4" stroke="#bbb" stroke-width="0.55"/>
<line x1="93.67" y1="660.2" x2="93.67" y2="674.4" stroke="#d5d5d5" stroke-width="0.55"/>
<line x1="94.44" y1="660.2" x2="94.44" y2="674.4" stroke="#aaa" stroke-width="0.55"/>
<line x1="95.75" y1="660.2" x2="95.75" y2="674.4" stroke="#9a9a9a" stroke-width="0.55"/>
<line x1="96.88" y1="660.2" x2="96.88" y2="674.4" stroke="#bbb" stroke-width="0.55"/>
<line x1="100.35" y1="660.2" x2="100.35" y2="674.4" stroke="#5a5a5a" stroke-width="0.55"/>
<line x1="102.11" y1="660.2" x2="102.11" y2="674.4" stroke="#aaa" stroke-width="0.55"/>
<line x1="103.14" y1="660.2" x2="103.14" y2="674.4" stroke="#aaa" stroke-width="0.55"/>
<line x1="106.72" y1="660.2" x2="106.72" y2="674.4" stroke="#9a9a9a" stroke-width="0.55"/>
<line x1="108.81" y1="660.2" x2="108.81" y2="674.4" stroke="#5a5a5a" stroke-width="0.55"/>
<line x1="109.76" y1="660.2" x2="109.76" y2="674.4" stroke="#c8c8c8" stroke-width="0.55"/>
<line x1="112.64" y1="660.2" x2="112.64" y2="674.4" stroke="#d5d5d5" stroke-width="0.55"/>
<line x1="114.1" y1="660.2" x2="114.1" y2="674.4" stroke="#bbb" stroke-width="0.55"/>
<line x1="120.6" y1="660.2" x2="120.6" y2="674.4" stroke="#bbb" stroke-width="0.55"/>
<line x1="122.75" y1="660.2" x2="122.75" y2="674.4" stroke="#c8c8c8" stroke-width="0.55"/>
<line x1="127.1" y1="660.2" x2="127.1" y2="674.4" stroke="#5a5a5a" stroke-width="0.55"/>
<line x1="132.63" y1="660.2" x2="132.63" y2="674.4" stroke="#9a9a9a" stroke-width="0.55"/>
<line x1="139.56" y1="660.2" x2="139.56" y2="674.4" stroke="#d5d5d5" stroke-width="0.55"/>
<line x1="147.92" y1="660.2" x2="147.92" y2="674.4" stroke="#d5d5d5" stroke-width="0.55"/>
<line x1="150.51" y1="660.2" x2="150.51" y2="674.4" stroke="#9a9a9a" stroke-width="0.55"/>
<line x1="154.21" y1="660.2" x2="154.21" y2="674.4" stroke="#9a9a9a" stroke-width="0.55"/>
<line x1="162.12" y1="660.2" x2="162.12" y2="674.4" stroke="#bbb" stroke-width="0.55"/>
<line x1="169.13" y1="660.2" x2="169.13" y2="674.4" stroke="#bbb" stroke-width="0.55"/>
<line x1="174.65" y1="660.2" x2="174.65" y2="674.4" stroke="#888" stroke-width="0.55"/>
<line x1="178.8" y1="660.2" x2="178.8" y2="674.4" stroke="#d5d5d5" stroke-width="0.55"/>
<line x1="184.78" y1="660.2" x2="184.78" y2="674.4" stroke="#d5d5d5" stroke-width="0.55"/>
<line x1="189.23" y1="660.2" x2="189.23" y2="674.4" stroke="#888" stroke-width="0.55"/>
<line x1="190.91" y1="660.2" x2="190.91" y2="674.4" stroke="#c8c8c8" stroke-width="0.55"/>
<line x1="194.78" y1="660.2" x2="194.78" y2="674.4" stroke="#888" stroke-width="0.55"/>
<line x1="198.59" y1="660.2" x2="198.59" y2="674.4" stroke="#9a9a9a" stroke-width="0.55"/>
<line x1="201.4" y1="660.2" x2="201.4" y2="674.4" stroke="#5a5a5a" stroke-width="0.55"/>
<rect x="18.5" y="674.8" width="104.55" height="6.2" fill="#dc3530"/>
<rect x="123" y="674.8" width="32.15" height="6.2" fill="#f6714f"/>
<rect x="155.1" y="674.8" width="18.25" height="6.2" fill="#fbad92"/>
<rect x="173.3" y="674.8" width="12.95" height="6.2" fill="#fde3d6"/>
<rect x="186.2" y="674.8" width="6.05" height="6.2" fill="#eef1fb"/>
<rect x="192.2" y="674.8" width="3.85" height="6.2" fill="#bcd6e8"/>
<rect x="196" y="674.8" width="2.85" height="6.2" fill="#6aaed6"/>
<rect x="198.8" y="674.8" width="3.15" height="6.2" fill="#3a83c1"/>
<line x1="18.5" y1="682.2" x2="18.5" y2="701.8" stroke="#9a9a9a" stroke-width="0.6"/>
<line x1="18.5" y1="701.8" x2="201.9" y2="701.8" stroke="#9a9a9a" stroke-width="0.6"/>
<line x1="17.2" y1="683.2" x2="18.5" y2="683.2" stroke="#aaa" stroke-width="0.4"/>
<line x1="17.2" y1="689.5" x2="18.5" y2="689.5" stroke="#aaa" stroke-width="0.4"/>
<line x1="17.2" y1="695.8" x2="18.5" y2="695.8" stroke="#aaa" stroke-width="0.4"/>
<line x1="17.2" y1="702.1" x2="18.5" y2="702.1" stroke="#aaa" stroke-width="0.4"/>
<text transform="translate(12.3,692) rotate(-90)" font-size="2.4" fill="#999" text-anchor="middle">Ranked List Metric</text>
<polygon points="18.5,694.8 18.5,683.7 20.33,685.05 22.17,686.18 24,687.13 25.84,687.94 27.67,688.62 29.5,689.2 31.34,689.7 33.17,690.13 35.01,690.5 36.84,690.82 38.67,691.1 40.51,691.35 42.34,691.57 44.18,691.77 46.01,691.95 47.84,692.1 49.68,692.25 51.51,692.38 53.35,692.5 55.18,692.61 57.01,692.72 58.85,692.81 60.68,692.9 62.52,692.98 64.35,693.06 66.18,693.14 68.02,693.21 69.85,693.27 71.69,693.34 73.52,693.4 75.35,693.45 77.19,693.51 79.02,693.56 80.86,693.61 82.69,693.66 84.52,693.7 86.36,693.74 88.19,693.78 90.03,693.82 91.86,693.86 93.69,693.9 95.53,693.93 97.36,693.97 99.2,694 101.03,694.03 102.86,694.06 104.7,694.09 106.53,694.12 108.37,694.15 110.2,694.17 112.03,694.2 113.87,694.22 115.7,694.25 117.54,694.27 119.37,694.29 121.2,694.31 123.04,694.33 124.87,694.35 126.71,694.37 128.54,694.39 130.37,694.41 132.21,694.42 134.04,694.44 135.88,694.46 137.71,694.47 139.54,694.49 141.38,694.5 143.21,694.52 145.05,694.53 146.88,694.55 148.71,694.56 150.55,694.57 152.38,694.59 154.22,694.6 156.05,694.61 157.88,694.62 159.72,694.64 161.55,694.65 163.39,694.66 165.22,694.67 167.05,694.68 168.89,694.69 170.72,694.7 172.56,694.8 174.39,694.82 176.22,694.88 178.06,694.98 179.89,695.12 181.73,695.31 183.56,695.53 185.39,695.8 187.23,696.1 189.06,696.45 190.9,696.83 192.73,697.26 194.56,697.72 196.4,698.23 198.23,698.78 200.07,699.37 201.9,700 201.9,694.8" fill="#bdbdbd"/>
<line x1="18.5" y1="694.8" x2="201.9" y2="694.8" stroke="#a8a8a8" stroke-width="0.5"/>
<line x1="51.15" y1="701.8" x2="51.15" y2="703" stroke="#aaa" stroke-width="0.4"/>
<text x="51.15" y="705.2" font-size="2.4" fill="#aaa" text-anchor="middle">5000</text>
<line x1="84.89" y1="701.8" x2="84.89" y2="703" stroke="#aaa" stroke-width="0.4"/>
<text x="84.89" y="705.2" font-size="2.4" fill="#aaa" text-anchor="middle">10000</text>
<line x1="118.64" y1="701.8" x2="118.64" y2="703" stroke="#aaa" stroke-width="0.4"/>
<text x="118.64" y="705.2" font-size="2.4" fill="#aaa" text-anchor="middle">15000</text>
<line x1="152.38" y1="701.8" x2="152.38" y2="703" stroke="#aaa" stroke-width="0.4"/>
<text x="152.38" y="705.2" font-size="2.4" fill="#aaa" text-anchor="middle">20000</text>
<line x1="186.13" y1="701.8" x2="186.13" y2="703" stroke="#aaa" stroke-width="0.4"/>
<text x="186.13" y="705.2" font-size="2.4" fill="#aaa" text-anchor="middle">25000</text>
<text x="110.2" y="707.4" font-size="2.8" fill="#777" text-anchor="middle">Rank in Ordered Dataset</text>
<rect x="208.6" y="573" width="195.9" height="136.6" fill="#fff" stroke="#6a6a6a" stroke-width="1.1"/>
<rect x="209.2" y="573.6" width="194.7" height="23.2" fill="#e3e3e3"/>
<text x="231.3" y="589.1" font-family="'Liberation Serif', 'Times New Roman', serif" font-weight="bold" font-size="14" textLength="150.8" lengthAdjust="spacingAndGlyphs">GBM: mTORC1 signaling</text>
<line x1="234.15" y1="598.8" x2="234.15" y2="658" stroke="#f1f1f1" stroke-width="0.6"/>
<line x1="234.15" y1="682.2" x2="234.15" y2="701.8" stroke="#f1f1f1" stroke-width="0.6"/>
<line x1="250.59" y1="598.8" x2="250.59" y2="658" stroke="#f1f1f1" stroke-width="0.6"/>
<line x1="250.59" y1="682.2" x2="250.59" y2="701.8" stroke="#f1f1f1" stroke-width="0.6"/>
<line x1="267.04" y1="598.8" x2="267.04" y2="658" stroke="#f1f1f1" stroke-width="0.6"/>
<line x1="267.04" y1="682.2" x2="267.04" y2="701.8" stroke="#f1f1f1" stroke-width="0.6"/>
<line x1="283.49" y1="598.8" x2="283.49" y2="658" stroke="#f1f1f1" stroke-width="0.6"/>
<line x1="283.49" y1="682.2" x2="283.49" y2="701.8" stroke="#f1f1f1" stroke-width="0.6"/>
<line x1="299.93" y1="598.8" x2="299.93" y2="658" stroke="#f1f1f1" stroke-width="0.6"/>
<line x1="299.93" y1="682.2" x2="299.93" y2="701.8" stroke="#f1f1f1" stroke-width="0.6"/>
<line x1="316.38" y1="598.8" x2="316.38" y2="658" stroke="#f1f1f1" stroke-width="0.6"/>
<line x1="316.38" y1="682.2" x2="316.38" y2="701.8" stroke="#f1f1f1" stroke-width="0.6"/>
<line x1="332.82" y1="598.8" x2="332.82" y2="658" stroke="#f1f1f1" stroke-width="0.6"/>
<line x1="332.82" y1="682.2" x2="332.82" y2="701.8" stroke="#f1f1f1" stroke-width="0.6"/>
<line x1="349.27" y1="598.8" x2="349.27" y2="658" stroke="#f1f1f1" stroke-width="0.6"/>
<line x1="349.27" y1="682.2" x2="349.27" y2="701.8" stroke="#f1f1f1" stroke-width="0.6"/>
<line x1="365.72" y1="598.8" x2="365.72" y2="658" stroke="#f1f1f1" stroke-width="0.6"/>
<line x1="365.72" y1="682.2" x2="365.72" y2="701.8" stroke="#f1f1f1" stroke-width="0.6"/>
<line x1="382.16" y1="598.8" x2="382.16" y2="658" stroke="#f1f1f1" stroke-width="0.6"/>
<line x1="382.16" y1="682.2" x2="382.16" y2="701.8" stroke="#f1f1f1" stroke-width="0.6"/>
<line x1="398.61" y1="598.8" x2="398.61" y2="658" stroke="#f1f1f1" stroke-width="0.6"/>
<line x1="398.61" y1="682.2" x2="398.61" y2="701.8" stroke="#f1f1f1" stroke-width="0.6"/>
<line x1="217.7" y1="598.8" x2="217.7" y2="658" stroke="#9a9a9a" stroke-width="0.6"/>
<line x1="216.2" y1="609" x2="217.7" y2="609" stroke="#aaa" stroke-width="0.5"/>
<text x="215.7" y="609.8" font-size="2.4" fill="#aaa" text-anchor="end">0.6</text>
<line x1="216.2" y1="625" x2="217.7" y2="625" stroke="#aaa" stroke-width="0.5"/>
<text x="215.7" y="625.8" font-size="2.4" fill="#aaa" text-anchor="end">0.4</text>
<line x1="216.2" y1="641" x2="217.7" y2="641" stroke="#aaa" stroke-width="0.5"/>
<text x="215.7" y="641.8" font-size="2.4" fill="#aaa" text-anchor="end">0.2</text>
<line x1="216.2" y1="657" x2="217.7" y2="657" stroke="#aaa" stroke-width="0.5"/>
<text x="215.7" y="657.8" font-size="2.4" fill="#aaa" text-anchor="end">0.0</text>
<text transform="translate(211.5,627.9) rotate(-90)" font-size="2.6" fill="#999" text-anchor="middle">Running Enrichment Score</text>
<text x="346.1" y="614" font-family="'Liberation Serif', 'Times New Roman', serif" font-weight="bold" font-size="13.4" textLength="44.8" lengthAdjust="spacingAndGlyphs">p=1e-10</text>
<polyline points="217.75,657.11 218.38,653.49 219.01,650.03 219.79,645.63 220.58,641.86 221.52,639.5 222.23,638.19 222.94,636.19 223.72,632.11 224.51,630.09 225.3,628.96 226.08,628.38 226.87,627.12 227.65,625.82 228.44,623.98 229.23,622.59 230.01,621.1 230.8,619.21 231.58,617.96 232.37,617.14 233.16,615.6 233.94,615.07 234.73,613.6 235.52,613.34 236.3,612.3 237.09,611.22 237.87,610.46 238.66,609.83 239.45,608.52 240.23,607.6 241.02,606.91 241.81,606.55 242.59,606.01 243.38,605.94 244.16,604.72 244.95,604.61 245.74,603.65 246.44,603.17 247.15,603.69 247.86,603.69 248.57,603.18 249.35,602.56 250.14,601.91 250.92,601.32 251.71,601.29 252.58,601.09 253.44,601.45 254.31,601.98 255.17,602.08 255.96,602.62 256.74,602.07 257.53,602.94 258.31,602.23 259.1,602.73 259.89,602.86 260.67,603.18 261.46,603.41 262.25,603.47 263.03,603.57 263.82,602.66 264.6,603.18 265.47,603.77 266.33,603.02 267.2,603.72 268.06,603.96 268.81,604.07 269.56,604.4 270.3,604.27 271.05,604.88 271.8,605.44 272.54,605.68 273.29,605.21 274.04,606.01 278.16,607.64 282.29,609.28 286.41,610.92 290.54,612.56 294.66,614.2 298.79,615.84 302.91,617.48 307.03,619.11 311.16,620.75 315.28,622.39 319.41,624.03 323.53,625.67 327.66,627.31 331.78,628.95 335.91,630.58 340.03,632.22 344.16,633.86 348.28,635.5 352.4,637.14 356.53,638.78 360.65,640.41 364.78,642.05 368.9,643.69 373.03,645.33 377.15,646.97 381.28,648.61 385.4,650.25 389.53,651.88 393.65,653.52 397.78,655.16 401.9,656.8" fill="none" stroke="#f25a55" stroke-width="0.85" stroke-linejoin="round"/>
<line x1="217.7" y1="660.2" x2="217.7" y2="674.4" stroke="#cfcfcf" stroke-width="0.55"/>
<line x1="218.41" y1="660.2" x2="218.41" y2="674.4" stroke="#c6c6c6" stroke-width="0.55"/>
<line x1="219.48" y1="660.2" x2="219.48" y2="674.4" stroke="#777" stroke-width="0.55"/>
<line x1="220.18" y1="660.2" x2="220.18" y2="674.4" stroke="#cfcfcf" stroke-width="0.55"/>
<line x1="220.66" y1="660.2" x2="220.66" y2="674.4" stroke="#777" stroke-width="0.55"/>
<line x1="221.38" y1="660.2" x2="221.38" y2="674.4" stroke="#666" stroke-width="0.55"/>
<line x1="222.4" y1="660.2" x2="222.4" y2="674.4" stroke="#888" stroke-width="0.55"/>
<line x1="223.1" y1="660.2" x2="223.1" y2="674.4" stroke="#444" stroke-width="0.55"/>
<line x1="223.48" y1="660.2" x2="223.48" y2="674.4" stroke="#bdbdbd" stroke-width="0.55"/>
<line x1="224.32" y1="660.2" x2="224.32" y2="674.4" stroke="#777" stroke-width="0.55"/>
<line x1="225.49" y1="660.2" x2="225.49" y2="674.4" stroke="#777" stroke-width="0.55"/>
<line x1="226.37" y1="660.2" x2="226.37" y2="674.4" stroke="#cfcfcf" stroke-width="0.55"/>
<line x1="226.68" y1="660.2" x2="226.68" y2="674.4" stroke="#444" stroke-width="0.55"/>
<line x1="227.04" y1="660.2" x2="227.04" y2="674.4" stroke="#999" stroke-width="0.55"/>
<line x1="227.51" y1="660.2" x2="227.51" y2="674.4" stroke="#c6c6c6" stroke-width="0.55"/>
<line x1="228.35" y1="660.2" x2="228.35" y2="674.4" stroke="#777" stroke-width="0.55"/>
<line x1="228.95" y1="660.2" x2="228.95" y2="674.4" stroke="#cfcfcf" stroke-width="0.55"/>
<line x1="230" y1="660.2" x2="230" y2="674.4" stroke="#aaa" stroke-width="0.55"/>
<line x1="230.51" y1="660.2" x2="230.51" y2="674.4" stroke="#666" stroke-width="0.55"/>
<line x1="231.26" y1="660.2" x2="231.26" y2="674.4" stroke="#aaa" stroke-width="0.55"/>
<line x1="231.98" y1="660.2" x2="231.98" y2="674.4" stroke="#cfcfcf" stroke-width="0.55"/>
<line x1="232.64" y1="660.2" x2="232.64" y2="674.4" stroke="#666" stroke-width="0.55"/>
<line x1="233.84" y1="660.2" x2="233.84" y2="674.4" stroke="#b4b4b4" stroke-width="0.55"/>
<line x1="234.77" y1="660.2" x2="234.77" y2="674.4" stroke="#cfcfcf" stroke-width="0.55"/>
<line x1="235.76" y1="660.2" x2="235.76" y2="674.4" stroke="#666" stroke-width="0.55"/>
<line x1="236.32" y1="660.2" x2="236.32" y2="674.4" stroke="#666" stroke-width="0.55"/>
<line x1="237.12" y1="660.2" x2="237.12" y2="674.4" stroke="#aaa" stroke-width="0.55"/>
<line x1="237.78" y1="660.2" x2="237.78" y2="674.4" stroke="#444" stroke-width="0.55"/>
<line x1="238.43" y1="660.2" x2="238.43" y2="674.4" stroke="#444" stroke-width="0.55"/>
<line x1="239.49" y1="660.2" x2="239.49" y2="674.4" stroke="#444" stroke-width="0.55"/>
<line x1="239.99" y1="660.2" x2="239.99" y2="674.4" stroke="#bdbdbd" stroke-width="0.55"/>
<line x1="240.71" y1="660.2" x2="240.71" y2="674.4" stroke="#777" stroke-width="0.55"/>
<line x1="241.39" y1="660.2" x2="241.39" y2="674.4" stroke="#aaa" stroke-width="0.55"/>
<line x1="242.25" y1="660.2" x2="242.25" y2="674.4" stroke="#aaa" stroke-width="0.55"/>
<line x1="242.86" y1="660.2" x2="242.86" y2="674.4" stroke="#bdbdbd" stroke-width="0.55"/>
<line x1="243.46" y1="660.2" x2="243.46" y2="674.4" stroke="#666" stroke-width="0.55"/>
<line x1="244.44" y1="660.2" x2="244.44" y2="674.4" stroke="#666" stroke-width="0.55"/>
<line x1="244.86" y1="660.2" x2="244.86" y2="674.4" stroke="#c6c6c6" stroke-width="0.55"/>
<line x1="245.17" y1="660.2" x2="245.17" y2="674.4" stroke="#888" stroke-width="0.55"/>
<line x1="246.19" y1="660.2" x2="246.19" y2="674.4" stroke="#999" stroke-width="0.55"/>
<line x1="247.1" y1="660.2" x2="247.1" y2="674.4" stroke="#999" stroke-width="0.55"/>
<line x1="247.8" y1="660.2" x2="247.8" y2="674.4" stroke="#888" stroke-width="0.55"/>
<line x1="248.99" y1="660.2" x2="248.99" y2="674.4" stroke="#bdbdbd" stroke-width="0.55"/>
<line x1="249.67" y1="660.2" x2="249.67" y2="674.4" stroke="#bdbdbd" stroke-width="0.55"/>
<line x1="250.07" y1="660.2" x2="250.07" y2="674.4" stroke="#444" stroke-width="0.55"/>
<line x1="251.26" y1="660.2" x2="251.26" y2="674.4" stroke="#777" stroke-width="0.55"/>
<line x1="251.81" y1="660.2" x2="251.81" y2="674.4" stroke="#444" stroke-width="0.55"/>
<line x1="252.38" y1="660.2" x2="252.38" y2="674.4" stroke="#bdbdbd" stroke-width="0.55"/>
<line x1="252.87" y1="660.2" x2="252.87" y2="674.4" stroke="#777" stroke-width="0.55"/>
<line x1="254.07" y1="660.2" x2="254.07" y2="674.4" stroke="#666" stroke-width="0.55"/>
<line x1="254.94" y1="660.2" x2="254.94" y2="674.4" stroke="#888" stroke-width="0.55"/>
<line x1="255.28" y1="660.2" x2="255.28" y2="674.4" stroke="#aaa" stroke-width="0.55"/>
<line x1="255.77" y1="660.2" x2="255.77" y2="674.4" stroke="#777" stroke-width="0.55"/>
<line x1="256.08" y1="660.2" x2="256.08" y2="674.4" stroke="#aaa" stroke-width="0.55"/>
<line x1="256.68" y1="660.2" x2="256.68" y2="674.4" stroke="#666" stroke-width="0.55"/>
<line x1="257.33" y1="660.2" x2="257.33" y2="674.4" stroke="#777" stroke-width="0.55"/>
<line x1="257.71" y1="660.2" x2="257.71" y2="674.4" stroke="#444" stroke-width="0.55"/>
<line x1="258.58" y1="660.2" x2="258.58" y2="674.4" stroke="#b4b4b4" stroke-width="0.55"/>
<line x1="259.42" y1="660.2" x2="259.42" y2="674.4" stroke="#888" stroke-width="0.55"/>
<line x1="260.28" y1="660.2" x2="260.28" y2="674.4" stroke="#c6c6c6" stroke-width="0.55"/>
<line x1="261.44" y1="660.2" x2="261.44" y2="674.4" stroke="#888" stroke-width="0.55"/>
<line x1="262.49" y1="660.2" x2="262.49" y2="674.4" stroke="#888" stroke-width="0.55"/>
<line x1="263.57" y1="660.2" x2="263.57" y2="674.4" stroke="#aaa" stroke-width="0.55"/>
<line x1="264.44" y1="660.2" x2="264.44" y2="674.4" stroke="#777" stroke-width="0.55"/>
<line x1="265.56" y1="660.2" x2="265.56" y2="674.4" stroke="#999" stroke-width="0.55"/>
<line x1="266.08" y1="660.2" x2="266.08" y2="674.4" stroke="#cfcfcf" stroke-width="0.55"/>
<line x1="266.52" y1="660.2" x2="266.52" y2="674.4" stroke="#bdbdbd" stroke-width="0.55"/>
<line x1="267" y1="660.2" x2="267" y2="674.4" stroke="#777" stroke-width="0.55"/>
<line x1="268.09" y1="660.2" x2="268.09" y2="674.4" stroke="#444" stroke-width="0.55"/>
<line x1="268.46" y1="660.2" x2="268.46" y2="674.4" stroke="#444" stroke-width="0.55"/>
<line x1="268.86" y1="660.2" x2="268.86" y2="674.4" stroke="#aaa" stroke-width="0.55"/>
<line x1="269.62" y1="660.2" x2="269.62" y2="674.4" stroke="#bdbdbd" stroke-width="0.55"/>
<line x1="270.13" y1="660.2" x2="270.13" y2="674.4" stroke="#777" stroke-width="0.55"/>
<line x1="270.66" y1="660.2" x2="270.66" y2="674.4" stroke="#cfcfcf" stroke-width="0.55"/>
<line x1="271.41" y1="660.2" x2="271.41" y2="674.4" stroke="#666" stroke-width="0.55"/>
<line x1="272.61" y1="660.2" x2="272.61" y2="674.4" stroke="#c6c6c6" stroke-width="0.55"/>
<line x1="273.68" y1="660.2" x2="273.68" y2="674.4" stroke="#777" stroke-width="0.55"/>
<line x1="276" y1="660.2" x2="276" y2="674.4" stroke="#aaa" stroke-width="0.55"/>
<line x1="278.49" y1="660.2" x2="278.49" y2="674.4" stroke="#888" stroke-width="0.55"/>
<line x1="279.8" y1="660.2" x2="279.8" y2="674.4" stroke="#5a5a5a" stroke-width="0.55"/>
<line x1="282.67" y1="660.2" x2="282.67" y2="674.4" stroke="#aaa" stroke-width="0.55"/>
<line x1="284.15" y1="660.2" x2="284.15" y2="674.4" stroke="#5a5a5a" stroke-width="0.55"/>
<line x1="285.58" y1="660.2" x2="285.58" y2="674.4" stroke="#9a9a9a" stroke-width="0.55"/>
<line x1="286.79" y1="660.2" x2="286.79" y2="674.4" stroke="#888" stroke-width="0.55"/>
<line x1="289.03" y1="660.2" x2="289.03" y2="674.4" stroke="#888" stroke-width="0.55"/>
<line x1="289.99" y1="660.2" x2="289.99" y2="674.4" stroke="#9a9a9a" stroke-width="0.55"/>
<line x1="293.28" y1="660.2" x2="293.28" y2="674.4" stroke="#c8c8c8" stroke-width="0.55"/>
<line x1="295.88" y1="660.2" x2="295.88" y2="674.4" stroke="#888" stroke-width="0.55"/>
<line x1="298.1" y1="660.2" x2="298.1" y2="674.4" stroke="#5a5a5a" stroke-width="0.55"/>
<line x1="300.51" y1="660.2" x2="300.51" y2="674.4" stroke="#9a9a9a" stroke-width="0.55"/>
<line x1="302.58" y1="660.2" x2="302.58" y2="674.4" stroke="#5a5a5a" stroke-width="0.55"/>
<line x1="305.32" y1="660.2" x2="305.32" y2="674.4" stroke="#c8c8c8" stroke-width="0.55"/>
<line x1="306.08" y1="660.2" x2="306.08" y2="674.4" stroke="#5a5a5a" stroke-width="0.55"/>
<line x1="307" y1="660.2" x2="307" y2="674.4" stroke="#9a9a9a" stroke-width="0.55"/>
<line x1="309.81" y1="660.2" x2="309.81" y2="674.4" stroke="#5a5a5a" stroke-width="0.55"/>
<line x1="312.7" y1="660.2" x2="312.7" y2="674.4" stroke="#bbb" stroke-width="0.55"/>
<line x1="315.19" y1="660.2" x2="315.19" y2="674.4" stroke="#5a5a5a" stroke-width="0.55"/>
<line x1="319.58" y1="660.2" x2="319.58" y2="674.4" stroke="#c8c8c8" stroke-width="0.55"/>
<line x1="327.43" y1="660.2" x2="327.43" y2="674.4" stroke="#888" stroke-width="0.55"/>
<line x1="334.22" y1="660.2" x2="334.22" y2="674.4" stroke="#9a9a9a" stroke-width="0.55"/>
<line x1="341.38" y1="660.2" x2="341.38" y2="674.4" stroke="#c8c8c8" stroke-width="0.55"/>
<line x1="345.67" y1="660.2" x2="345.67" y2="674.4" stroke="#5a5a5a" stroke-width="0.55"/>
<line x1="350.74" y1="660.2" x2="350.74" y2="674.4" stroke="#aaa" stroke-width="0.55"/>
<line x1="358.41" y1="660.2" x2="358.41" y2="674.4" stroke="#5a5a5a" stroke-width="0.55"/>
<line x1="366.54" y1="660.2" x2="366.54" y2="674.4" stroke="#bbb" stroke-width="0.55"/>
<line x1="374.16" y1="660.2" x2="374.16" y2="674.4" stroke="#c8c8c8" stroke-width="0.55"/>
<line x1="376.25" y1="660.2" x2="376.25" y2="674.4" stroke="#bbb" stroke-width="0.55"/>
<line x1="380.74" y1="660.2" x2="380.74" y2="674.4" stroke="#5a5a5a" stroke-width="0.55"/>
<line x1="381.78" y1="660.2" x2="381.78" y2="674.4" stroke="#c8c8c8" stroke-width="0.55"/>
<line x1="383.06" y1="660.2" x2="383.06" y2="674.4" stroke="#9a9a9a" stroke-width="0.55"/>
<line x1="384.47" y1="660.2" x2="384.47" y2="674.4" stroke="#c8c8c8" stroke-width="0.55"/>
<line x1="388.54" y1="660.2" x2="388.54" y2="674.4" stroke="#c8c8c8" stroke-width="0.55"/>
<line x1="390.7" y1="660.2" x2="390.7" y2="674.4" stroke="#aaa" stroke-width="0.55"/>
<line x1="394.13" y1="660.2" x2="394.13" y2="674.4" stroke="#d5d5d5" stroke-width="0.55"/>
<line x1="396.67" y1="660.2" x2="396.67" y2="674.4" stroke="#bbb" stroke-width="0.55"/>
<line x1="399.57" y1="660.2" x2="399.57" y2="674.4" stroke="#5a5a5a" stroke-width="0.55"/>
<rect x="217.7" y="674.8" width="10.05" height="6.2" fill="#a8141a"/>
<rect x="227.7" y="674.8" width="85.45" height="6.2" fill="#dc3530"/>
<rect x="313.1" y="674.8" width="32.55" height="6.2" fill="#f6714f"/>
<rect x="345.6" y="674.8" width="23.35" height="6.2" fill="#fbad92"/>
<rect x="368.9" y="674.8" width="7.95" height="6.2" fill="#fde3d6"/>
<rect x="376.8" y="674.8" width="7.05" height="6.2" fill="#eef1fb"/>
<rect x="383.8" y="674.8" width="6.35" height="6.2" fill="#bcd6e8"/>
<rect x="390.1" y="674.8" width="6.85" height="6.2" fill="#6aaed6"/>
<rect x="396.9" y="674.8" width="5.05" height="6.2" fill="#3a83c1"/>
<line x1="217.7" y1="682.2" x2="217.7" y2="701.8" stroke="#9a9a9a" stroke-width="0.6"/>
<line x1="217.7" y1="701.8" x2="401.9" y2="701.8" stroke="#9a9a9a" stroke-width="0.6"/>
<line x1="216.4" y1="683.2" x2="217.7" y2="683.2" stroke="#aaa" stroke-width="0.4"/>
<line x1="216.4" y1="689.5" x2="217.7" y2="689.5" stroke="#aaa" stroke-width="0.4"/>
<line x1="216.4" y1="695.8" x2="217.7" y2="695.8" stroke="#aaa" stroke-width="0.4"/>
<line x1="216.4" y1="702.1" x2="217.7" y2="702.1" stroke="#aaa" stroke-width="0.4"/>
<text transform="translate(211.5,692) rotate(-90)" font-size="2.4" fill="#999" text-anchor="middle">Ranked List Metric</text>
<polygon points="217.7,694.8 217.7,683.7 219.54,685.05 221.38,686.18 223.23,687.13 225.07,687.94 226.91,688.62 228.75,689.2 230.59,689.7 232.44,690.13 234.28,690.5 236.12,690.82 237.96,691.1 239.8,691.35 241.65,691.57 243.49,691.77 245.33,691.95 247.17,692.1 249.01,692.25 250.86,692.38 252.7,692.5 254.54,692.61 256.38,692.72 258.22,692.81 260.07,692.9 261.91,692.98 263.75,693.06 265.59,693.14 267.43,693.21 269.28,693.27 271.12,693.34 272.96,693.4 274.8,693.45 276.64,693.51 278.49,693.56 280.33,693.61 282.17,693.66 284.01,693.7 285.85,693.74 287.7,693.78 289.54,693.82 291.38,693.86 293.22,693.9 295.06,693.93 296.91,693.97 298.75,694 300.59,694.03 302.43,694.06 304.27,694.09 306.12,694.12 307.96,694.15 309.8,694.17 311.64,694.2 313.48,694.22 315.33,694.25 317.17,694.27 319.01,694.29 320.85,694.31 322.69,694.33 324.54,694.35 326.38,694.37 328.22,694.39 330.06,694.41 331.9,694.42 333.75,694.44 335.59,694.46 337.43,694.47 339.27,694.49 341.11,694.5 342.96,694.52 344.8,694.53 346.64,694.55 348.48,694.56 350.32,694.57 352.17,694.59 354.01,694.6 355.85,694.61 357.69,694.62 359.53,694.64 361.38,694.65 363.22,694.66 365.06,694.67 366.9,694.68 368.74,694.69 370.59,694.7 372.43,694.8 374.27,694.82 376.11,694.88 377.95,694.98 379.8,695.12 381.64,695.31 383.48,695.53 385.32,695.8 387.16,696.1 389.01,696.45 390.85,696.83 392.69,697.26 394.53,697.72 396.37,698.23 398.22,698.78 400.06,699.37 401.9,700 401.9,694.8" fill="#bdbdbd"/>
<line x1="217.7" y1="694.8" x2="401.9" y2="694.8" stroke="#a8a8a8" stroke-width="0.5"/>
<line x1="250.49" y1="701.8" x2="250.49" y2="703" stroke="#aaa" stroke-width="0.4"/>
<text x="250.49" y="705.2" font-size="2.4" fill="#aaa" text-anchor="middle">5000</text>
<line x1="284.38" y1="701.8" x2="284.38" y2="703" stroke="#aaa" stroke-width="0.4"/>
<text x="284.38" y="705.2" font-size="2.4" fill="#aaa" text-anchor="middle">10000</text>
<line x1="318.27" y1="701.8" x2="318.27" y2="703" stroke="#aaa" stroke-width="0.4"/>
<text x="318.27" y="705.2" font-size="2.4" fill="#aaa" text-anchor="middle">15000</text>
<line x1="352.17" y1="701.8" x2="352.17" y2="703" stroke="#aaa" stroke-width="0.4"/>
<text x="352.17" y="705.2" font-size="2.4" fill="#aaa" text-anchor="middle">20000</text>
<line x1="386.06" y1="701.8" x2="386.06" y2="703" stroke="#aaa" stroke-width="0.4"/>
<text x="386.06" y="705.2" font-size="2.4" fill="#aaa" text-anchor="middle">25000</text>
<text x="309.8" y="707.4" font-size="2.8" fill="#777" text-anchor="middle">Rank in Ordered Dataset</text>
<text x="420.9" y="420.8" font-family="'Liberation Serif', 'Times New Roman', serif" font-weight="bold" font-size="24">C</text>
<text transform="translate(502.7,459.5) rotate(-45)" font-family="'Liberation Serif', 'Times New Roman', serif" font-weight="bold" font-size="11.3">Scramble</text>
<text transform="translate(530.7,460.3) rotate(-45)" font-family="'Liberation Serif', 'Times New Roman', serif" font-weight="bold" font-size="11.3">si1-ORMDL2</text>
<text transform="translate(559.1,460.3) rotate(-45)" font-family="'Liberation Serif', 'Times New Roman', serif" font-weight="bold" font-size="11.3">si2-ORMDL2</text>
<text transform="translate(595.5,461.3) rotate(-45)" font-family="'Liberation Serif', 'Times New Roman', serif" font-weight="bold" font-size="11.3">Vector</text>
<text transform="translate(618.5,461.8) rotate(-45)" font-family="'Liberation Serif', 'Times New Roman', serif" font-weight="bold" font-size="11.3">ORMDL2</text>
<text x="485.6" y="476.1" font-family="'Liberation Serif', 'Times New Roman', serif" font-weight="bold" font-size="10.9" text-anchor="end">p-S6K</text>
<text x="485.6" y="500.9" font-family="'Liberation Serif', 'Times New Roman', serif" font-weight="bold" font-size="10.9" text-anchor="end">S6K</text>
<text x="485.6" y="526.9" font-family="'Liberation Serif', 'Times New Roman', serif" font-weight="bold" font-size="10.9" text-anchor="end">GAPDH</text>
<rect x="488.5" y="466.5" width="81" height="15" fill="#f3f3f3" filter="url(#bl2)"/>
<rect x="578.5" y="466.5" width="57.5" height="15" fill="#f3f3f3" filter="url(#bl2)"/>
<rect x="488.5" y="491.4" width="81" height="14.1" fill="#f3f3f3" filter="url(#bl2)"/>
<rect x="578" y="492.2" width="58" height="13.6" fill="#f3f3f3" filter="url(#bl2)"/>
<rect x="488.5" y="517.5" width="81" height="13" fill="#f3f3f3" filter="url(#bl2)"/>
<rect x="578.5" y="518.5" width="57.5" height="12.5" fill="#f3f3f3" filter="url(#bl2)"/>
<rect x="490.6" y="470.8" width="24.3" height="7.6" rx="3.8" fill="#080808" opacity="0.35" filter="url(#bl3)"/>
<rect x="491.1" y="472" width="23.3" height="5.2" rx="2.6" fill="#080808" filter="url(#bl)"/>
<rect x="520.5" y="472.1" width="19" height="5.4" rx="2.7" fill="#8a8a8a" opacity="0.35" filter="url(#bl3)"/>
<rect x="521" y="473.3" width="18" height="3" rx="1.5" fill="#8a8a8a" filter="url(#bl)"/>
<rect x="545.5" y="472" width="23.2" height="5.4" rx="2.7" fill="#959595" opacity="0.35" filter="url(#bl3)"/>
<rect x="546" y="473.2" width="22.2" height="3" rx="1.5" fill="#959595" filter="url(#bl)"/>
<rect x="581.9" y="470.9" width="21.2" height="6" rx="3" fill="#404040" opacity="0.35" filter="url(#bl3)"/>
<rect x="582.4" y="472.1" width="20.2" height="3.6" rx="1.8" fill="#404040" filter="url(#bl)"/>
<rect x="609.5" y="470.4" width="22.5" height="7" rx="3.5" fill="#0c0c0c" opacity="0.35" filter="url(#bl3)"/>
<rect x="610" y="471.6" width="21.5" height="4.6" rx="2.3" fill="#0c0c0c" filter="url(#bl)"/>
<rect x="491.3" y="494.6" width="23.8" height="7.8" rx="3.9" fill="#060606" opacity="0.35" filter="url(#bl3)"/>
<rect x="491.8" y="495.8" width="22.8" height="5.4" rx="2.7" fill="#060606" filter="url(#bl)"/>
<rect x="517.3" y="494.5" width="23.6" height="7.8" rx="3.9" fill="#060606" opacity="0.35" filter="url(#bl3)"/>
<rect x="517.8" y="495.7" width="22.6" height="5.4" rx="2.7" fill="#060606" filter="url(#bl)"/>
<rect x="542.9" y="494.5" width="24.6" height="7.8" rx="3.9" fill="#060606" opacity="0.35" filter="url(#bl3)"/>
<rect x="543.4" y="495.7" width="23.6" height="5.4" rx="2.7" fill="#060606" filter="url(#bl)"/>
<rect x="581.3" y="495.1" width="23.6" height="8" rx="4" fill="#060606" opacity="0.35" filter="url(#bl3)"/>
<rect x="581.8" y="496.3" width="22.6" height="5.6" rx="2.8" fill="#060606" filter="url(#bl)"/>
<rect x="608.4" y="495.2" width="24.1" height="7.8" rx="3.9" fill="#060606" opacity="0.35" filter="url(#bl3)"/>
<rect x="608.9" y="496.4" width="23.1" height="5.4" rx="2.7" fill="#060606" filter="url(#bl)"/>
<ellipse cx="578.6" cy="502.4" rx="0.9" ry="3.0" fill="#111" filter="url(#bl)"/>
<rect x="490.5" y="519.4" width="25.8" height="8.6" rx="4.3" fill="#050505" opacity="0.35" filter="url(#bl3)"/>
<rect x="491" y="520.6" width="24.8" height="6.2" rx="3.1" fill="#050505" filter="url(#bl)"/>
<rect x="517" y="519" width="25" height="8.8" rx="4.4" fill="#050505" opacity="0.35" filter="url(#bl3)"/>
<rect x="517.5" y="520.2" width="24" height="6.4" rx="3.2" fill="#050505" filter="url(#bl)"/>
<rect x="542.3" y="518.6" width="27.2" height="8.8" rx="4.4" fill="#050505" opacity="0.35" filter="url(#bl3)"/>
<rect x="542.8" y="519.8" width="26.2" height="6.4" rx="3.2" fill="#050505" filter="url(#bl)"/>
<rect x="581.7" y="521.5" width="24" height="7.2" rx="3.6" fill="#050505" opacity="0.35" filter="url(#bl3)"/>
<rect x="582.2" y="522.7" width="23" height="4.8" rx="2.4" fill="#050505" filter="url(#bl)"/>
<rect x="607.8" y="521.5" width="24.2" height="7.2" rx="3.6" fill="#050505" opacity="0.35" filter="url(#bl3)"/>
<rect x="608.3" y="522.7" width="23.2" height="4.8" rx="2.4" fill="#050505" filter="url(#bl)"/>
<rect x="498.4" y="534.9" width="67.1" height="1.1" fill="#1a1a1a"/>
<rect x="587.4" y="534.9" width="40.9" height="1.1" fill="#1a1a1a"/>
<text x="532.0" y="549.0" font-family="'Liberation Serif', 'Times New Roman', serif" font-weight="bold" font-size="11" text-anchor="middle">U87</text>
<text x="607.0" y="549.0" font-family="'Liberation Serif', 'Times New Roman', serif" font-weight="bold" font-size="11" text-anchor="middle">U251</text>
<text transform="translate(430.3,630.3) rotate(-90)" font-family="'Liberation Serif', 'Times New Roman', serif" font-weight="bold" font-size="12.3" text-anchor="middle">Protein fold change</text>
<text transform="translate(445.6,630.5) rotate(-90)" font-family="'Liberation Serif', 'Times New Roman', serif" font-weight="bold" font-size="12.3" text-anchor="middle">p-S6K/S6K</text>
<line x1="470.6" y1="586.1" x2="470.6" y2="675.3" stroke="#1a1a1a" stroke-width="1.4"/>
<line x1="465.4" y1="675.3" x2="559.8" y2="675.3" stroke="#1a1a1a" stroke-width="1.3"/>
<line x1="465.4" y1="675.3" x2="470.6" y2="675.3" stroke="#1a1a1a" stroke-width="1.1"/>
<text x="463.3" y="678.6" font-family="'Liberation Serif', 'Times New Roman', serif" font-weight="bold" font-size="9.6" text-anchor="end" fill="#222">0.0</text>
<line x1="465.4" y1="653" x2="470.6" y2="653" stroke="#1a1a1a" stroke-width="1.1"/>
<text x="463.3" y="656.3" font-family="'Liberation Serif', 'Times New Roman', serif" font-weight="bold" font-size="9.6" text-anchor="end" fill="#222">0.5</text>
<line x1="465.4" y1="630.7" x2="470.6" y2="630.7" stroke="#1a1a1a" stroke-width="1.1"/>
<text x="463.3" y="634" font-family="'Liberation Serif', 'Times New Roman', serif" font-weight="bold" font-size="9.6" text-anchor="end" fill="#222">1.0</text>
<line x1="465.4" y1="608.4" x2="470.6" y2="608.4" stroke="#1a1a1a" stroke-width="1.1"/>
<text x="463.3" y="611.7" font-family="'Liberation Serif', 'Times New Roman', serif" font-weight="bold" font-size="9.6" text-anchor="end" fill="#222">1.5</text>
<line x1="465.4" y1="586.1" x2="470.6" y2="586.1" stroke="#1a1a1a" stroke-width="1.1"/>
<text x="463.3" y="589.4" font-family="'Liberation Serif', 'Times New Roman', serif" font-weight="bold" font-size="9.6" text-anchor="end" fill="#222">2.0</text>
<line x1="488.4" y1="675.3" x2="488.4" y2="679.6" stroke="#1a1a1a" stroke-width="1.1"/>
<line x1="514.6" y1="675.3" x2="514.6" y2="679.6" stroke="#1a1a1a" stroke-width="1.1"/>
<line x1="541.3" y1="675.3" x2="541.3" y2="679.6" stroke="#1a1a1a" stroke-width="1.1"/>
<rect x="479.4" y="633.2" width="17.9" height="42.1" fill="#707070" stroke="#1a1a1a" stroke-width="0.9"/>
<line x1="488.35" y1="629.8" x2="488.35" y2="635.4" stroke="#1a1a1a" stroke-width="0.9"/>
<line x1="483.95" y1="629.8" x2="492.75" y2="629.8" stroke="#1a1a1a" stroke-width="0.9"/>
<line x1="483.95" y1="635.4" x2="492.75" y2="635.4" stroke="#1a1a1a" stroke-width="0.9"/>
<rect x="506.3" y="662.4" width="17.3" height="12.9" fill="#6cc04c" stroke="#1a1a1a" stroke-width="0.9"/>
<line x1="514.95" y1="660" x2="514.95" y2="664.2" stroke="#1a1a1a" stroke-width="0.9"/>
<line x1="510.55" y1="660" x2="519.35" y2="660" stroke="#1a1a1a" stroke-width="0.9"/>
<line x1="510.55" y1="664.2" x2="519.35" y2="664.2" stroke="#1a1a1a" stroke-width="0.9"/>
<rect x="533.2" y="659.6" width="17" height="15.7" fill="#3052a2" stroke="#1a1a1a" stroke-width="0.9"/>
<line x1="541.7" y1="657.7" x2="541.7" y2="661.4" stroke="#1a1a1a" stroke-width="0.9"/>
<line x1="537.3" y1="657.7" x2="546.1" y2="657.7" stroke="#1a1a1a" stroke-width="0.9"/>
<line x1="537.3" y1="661.4" x2="546.1" y2="661.4" stroke="#1a1a1a" stroke-width="0.9"/>
<text x="514.6" y="589.0" font-family="'Liberation Serif', 'Times New Roman', serif" font-weight="bold" font-size="10.6" text-anchor="middle">U87</text>
<text x="514" y="606" font-family="'Liberation Serif', 'Times New Roman', serif" font-size="10.7" text-anchor="middle" fill="#222"><tspan font-style="italic">p</tspan>&lt;0.001</text>
<line x1="488.0" y1="609.2" x2="542.2" y2="609.2" stroke="#222" stroke-width="0.9"/>
<text x="498.8" y="619.4" font-family="'Liberation Serif', 'Times New Roman', serif" font-size="10.7" text-anchor="middle" fill="#222"><tspan font-style="italic">p</tspan>&lt;0.001</text>
<line x1="488.0" y1="622.5" x2="515.6" y2="622.5" stroke="#222" stroke-width="0.9"/>
<text transform="translate(464.2,717.8) rotate(-45)" font-family="'Liberation Serif', 'Times New Roman', serif" font-weight="bold" font-size="9.6">Scramble</text>
<text transform="translate(478.4,730) rotate(-45)" font-family="'Liberation Serif', 'Times New Roman', serif" font-weight="bold" font-size="9.8">si1-ORMDL2</text>
<text transform="translate(505,730) rotate(-45)" font-family="'Liberation Serif', 'Times New Roman', serif" font-weight="bold" font-size="9.8">si2-ORMDL2</text>
<text transform="translate(583,631) rotate(-90)" font-family="'Liberation Serif', 'Times New Roman', serif" font-weight="bold" font-size="12.3" text-anchor="middle">Protein fold change</text>
<text transform="translate(597.9,633.2) rotate(-90)" font-family="'Liberation Serif', 'Times New Roman', serif" font-weight="bold" font-size="12.3" text-anchor="middle">p-S6K/S6K</text>
<line x1="623" y1="587.65" x2="623" y2="675.7" stroke="#1a1a1a" stroke-width="1.5"/>
<line x1="617.3" y1="675.7" x2="675.0" y2="675.7" stroke="#1a1a1a" stroke-width="1.3"/>
<line x1="617.3" y1="675.7" x2="623" y2="675.7" stroke="#1a1a1a" stroke-width="1.1"/>
<text x="615.8" y="679" font-family="'Liberation Serif', 'Times New Roman', serif" font-weight="bold" font-size="9.8" text-anchor="end" fill="#222">0.0</text>
<line x1="617.3" y1="646.35" x2="623" y2="646.35" stroke="#1a1a1a" stroke-width="1.1"/>
<text x="615.8" y="649.65" font-family="'Liberation Serif', 'Times New Roman', serif" font-weight="bold" font-size="9.8" text-anchor="end" fill="#222">0.5</text>
<line x1="617.3" y1="617" x2="623" y2="617" stroke="#1a1a1a" stroke-width="1.1"/>
<text x="615.8" y="620.3" font-family="'Liberation Serif', 'Times New Roman', serif" font-weight="bold" font-size="9.8" text-anchor="end" fill="#222">1.0</text>
<line x1="617.3" y1="587.65" x2="623" y2="587.65" stroke="#1a1a1a" stroke-width="1.1"/>
<text x="615.8" y="590.95" font-family="'Liberation Serif', 'Times New Roman', serif" font-weight="bold" font-size="9.8" text-anchor="end" fill="#222">1.5</text>
<line x1="637.2" y1="675.7" x2="637.2" y2="680.9" stroke="#1a1a1a" stroke-width="1.1"/>
<line x1="659.3" y1="675.7" x2="659.3" y2="680.9" stroke="#1a1a1a" stroke-width="1.1"/>
<rect x="630.3" y="654.6" width="14.5" height="21.1" fill="#707070" stroke="#1a1a1a" stroke-width="0.9"/>
<line x1="637.55" y1="652.4" x2="637.55" y2="657.4" stroke="#1a1a1a" stroke-width="0.9"/>
<line x1="633.75" y1="652.4" x2="641.35" y2="652.4" stroke="#1a1a1a" stroke-width="0.9"/>
<line x1="633.75" y1="657.4" x2="641.35" y2="657.4" stroke="#1a1a1a" stroke-width="0.9"/>
<rect x="652.4" y="624.4" width="14.4" height="51.3" fill="#d6232a" stroke="#1a1a1a" stroke-width="0.9"/>
<line x1="659.6" y1="622.3" x2="659.6" y2="626.3" stroke="#1a1a1a" stroke-width="0.9"/>
<line x1="655.7" y1="622.3" x2="663.5" y2="622.3" stroke="#1a1a1a" stroke-width="0.9"/>
<line x1="655.7" y1="626.3" x2="663.5" y2="626.3" stroke="#1a1a1a" stroke-width="0.9"/>
<text x="647.8" y="589.9" font-family="'Liberation Serif', 'Times New Roman', serif" font-weight="bold" font-size="10.3" text-anchor="middle">U251</text>
<text x="646.9" y="614.8" font-family="'Liberation Serif', 'Times New Roman', serif" font-size="10.7" text-anchor="middle" fill="#222"><tspan font-style="italic">p</tspan>&lt;0.001</text>
<line x1="638.1" y1="618.5" x2="659.4" y2="618.5" stroke="#222" stroke-width="0.9"/>
<text transform="translate(621.7,709.6) rotate(-45)" font-family="'Liberation Serif', 'Times New Roman', serif" font-weight="bold" font-size="9.6">Vector</text>
<text transform="translate(633.7,719.3) rotate(-45)" font-family="'Liberation Serif', 'Times New Roman', serif" font-weight="bold" font-size="9.4">ORMDL2</text>
</svg>
</body></html>
